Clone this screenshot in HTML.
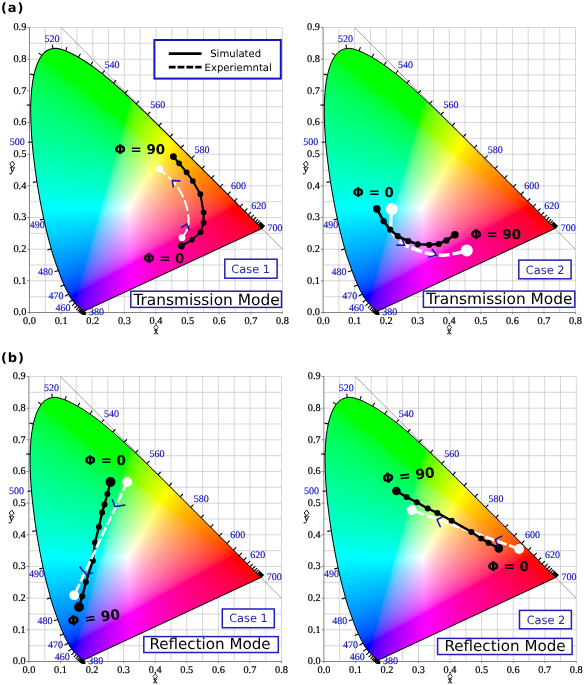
<!DOCTYPE html>
<html><head><meta charset="utf-8"><title>CIE chromaticity</title>
<style>
html,body{margin:0;padding:0;background:#fff}
svg{display:block;text-rendering:geometricPrecision}
.ax text{font-family:"Liberation Serif",serif;font-size:10.3px;fill:#000;stroke:#000;stroke-width:.2px}
.wl text{font-family:"Liberation Serif",serif;font-size:10px;fill:#1010c0;stroke:#1010c0;stroke-width:.15px}
.axt{font-family:"Liberation Serif",serif;font-size:9px;fill:#000;stroke:#000;stroke-width:.25px}
.sans{font-family:"DejaVu Sans","Liberation Sans",sans-serif}
.b{font-family:"DejaVu Sans","Liberation Sans",sans-serif;font-weight:bold}
</style></head><body>
<svg width="584" height="685" viewBox="0 0 584 685">
<defs><linearGradient id="g0" gradientUnits="userSpaceOnUse" x1="0" x2="240"><stop offset=".075" stop-color="#0f0"/><stop offset=".1375" stop-color="#0f0"/></linearGradient><linearGradient id="g1" gradientUnits="userSpaceOnUse" x1="0" x2="240"><stop offset=".0625" stop-color="#0f0"/><stop offset=".1583" stop-color="#0f0"/></linearGradient><linearGradient id="g2" gradientUnits="userSpaceOnUse" x1="0" x2="240"><stop offset=".0542" stop-color="#0f0"/><stop offset=".1708" stop-color="#0f0"/></linearGradient><linearGradient id="g3" gradientUnits="userSpaceOnUse" x1="0" x2="240"><stop offset=".05" stop-color="#0f0"/><stop offset=".1833" stop-color="#0f0"/></linearGradient><linearGradient id="g4" gradientUnits="userSpaceOnUse" x1="0" x2="240"><stop offset=".0458" stop-color="#0f0"/><stop offset=".1958" stop-color="#0f0"/></linearGradient><linearGradient id="g5" gradientUnits="userSpaceOnUse" x1="0" x2="240"><stop offset=".0417" stop-color="#00ff0b"/><stop offset=".05" stop-color="#0f0"/><stop offset=".2083" stop-color="#0f0"/></linearGradient><linearGradient id="g6" gradientUnits="userSpaceOnUse" x1="0" x2="240"><stop offset=".0375" stop-color="#00ff19"/><stop offset=".0583" stop-color="#0f0"/><stop offset=".2167" stop-color="#0f0"/></linearGradient><linearGradient id="g7" gradientUnits="userSpaceOnUse" x1="0" x2="240"><stop offset=".0333" stop-color="#0f2"/><stop offset=".0583" stop-color="#00ff09"/><stop offset=".0667" stop-color="#0f0"/><stop offset=".2292" stop-color="#0f0"/></linearGradient><linearGradient id="g8" gradientUnits="userSpaceOnUse" x1="0" x2="240"><stop offset=".0292" stop-color="#00ff29"/><stop offset=".0604" stop-color="#00ff12"/><stop offset=".0729" stop-color="#0f0"/><stop offset=".2375" stop-color="#0f0"/></linearGradient><linearGradient id="g9" gradientUnits="userSpaceOnUse" x1="0" x2="240"><stop offset=".0292" stop-color="#00ff2d"/><stop offset=".0667" stop-color="#00ff14"/><stop offset=".0813" stop-color="#0f0"/><stop offset=".25" stop-color="#0f0"/></linearGradient><linearGradient id="g10" gradientUnits="userSpaceOnUse" x1="0" x2="240"><stop offset=".025" stop-color="#00ff32"/><stop offset=".0667" stop-color="#00ff1b"/><stop offset=".0833" stop-color="#00ff07"/><stop offset=".0896" stop-color="#0f0"/><stop offset=".2583" stop-color="#0f0"/></linearGradient><linearGradient id="g11" gradientUnits="userSpaceOnUse" x1="0" x2="240"><stop offset=".025" stop-color="#00ff36"/><stop offset=".075" stop-color="#00ff1b"/><stop offset=".0979" stop-color="#0f0"/><stop offset=".2667" stop-color="#0f0"/></linearGradient><linearGradient id="g12" gradientUnits="userSpaceOnUse" x1="0" x2="240"><stop offset=".0208" stop-color="#00ff3b"/><stop offset=".0792" stop-color="#00ff1e"/><stop offset=".1" stop-color="#00ff06"/><stop offset=".1083" stop-color="#0f0"/><stop offset=".275" stop-color="#0f0"/></linearGradient><linearGradient id="g13" gradientUnits="userSpaceOnUse" x1="0" x2="240"><stop offset=".0167" stop-color="#00ff3f"/><stop offset=".0792" stop-color="#00ff24"/><stop offset=".1042" stop-color="#00ff0c"/><stop offset=".1125" stop-color="#0f0"/><stop offset=".2833" stop-color="#0f0"/></linearGradient><linearGradient id="g14" gradientUnits="userSpaceOnUse" x1="0" x2="240"><stop offset=".0167" stop-color="#00ff42"/><stop offset=".0875" stop-color="#00ff24"/><stop offset=".1125" stop-color="#00ff0c"/><stop offset=".1208" stop-color="#0f0"/><stop offset=".2917" stop-color="#0f0"/></linearGradient><linearGradient id="g15" gradientUnits="userSpaceOnUse" x1="0" x2="240"><stop offset=".0167" stop-color="#00ff45"/><stop offset=".0917" stop-color="#00ff26"/><stop offset=".1187" stop-color="#00ff0e"/><stop offset=".1292" stop-color="#0f0"/><stop offset=".3" stop-color="#0f0"/></linearGradient><linearGradient id="g16" gradientUnits="userSpaceOnUse" x1="0" x2="240"><stop offset=".0125" stop-color="#00ff48"/><stop offset=".0938" stop-color="#00ff2a"/><stop offset=".125" stop-color="#0f1"/><stop offset=".1354" stop-color="#0f0"/><stop offset=".3083" stop-color="#0f0"/></linearGradient><linearGradient id="g17" gradientUnits="userSpaceOnUse" x1="0" x2="240"><stop offset=".0125" stop-color="#00ff4b"/><stop offset=".0979" stop-color="#00ff2c"/><stop offset=".1313" stop-color="#00ff13"/><stop offset=".1437" stop-color="#0f0"/><stop offset=".3167" stop-color="#0f0"/></linearGradient><linearGradient id="g18" gradientUnits="userSpaceOnUse" x1="0" x2="240"><stop offset=".0125" stop-color="#00ff4d"/><stop offset=".1" stop-color="#00ff2f"/><stop offset=".1375" stop-color="#00ff15"/><stop offset=".1521" stop-color="#0f0"/><stop offset=".325" stop-color="#0f0"/></linearGradient><linearGradient id="g19" gradientUnits="userSpaceOnUse" x1="0" x2="240"><stop offset=".0083" stop-color="#00ff51"/><stop offset=".1042" stop-color="#00ff31"/><stop offset=".1437" stop-color="#00ff17"/><stop offset=".1604" stop-color="#0f0"/><stop offset=".3292" stop-color="#0f0"/></linearGradient><linearGradient id="g20" gradientUnits="userSpaceOnUse" x1="0" x2="240"><stop offset=".0083" stop-color="#00ff53"/><stop offset=".1083" stop-color="#0f3"/><stop offset=".15" stop-color="#00ff19"/><stop offset=".1688" stop-color="#0f0"/><stop offset=".3375" stop-color="#0f0"/></linearGradient><linearGradient id="g21" gradientUnits="userSpaceOnUse" x1="0" x2="240"><stop offset=".0083" stop-color="#0f5"/><stop offset=".1104" stop-color="#00ff36"/><stop offset=".1542" stop-color="#00ff1c"/><stop offset=".1708" stop-color="#00ff06"/><stop offset=".1792" stop-color="#0f0"/><stop offset=".3458" stop-color="#0f0"/></linearGradient><linearGradient id="g22" gradientUnits="userSpaceOnUse" x1="0" x2="240"><stop offset=".0083" stop-color="#00ff57"/><stop offset=".1125" stop-color="#00ff39"/><stop offset=".1604" stop-color="#00ff1e"/><stop offset=".1771" stop-color="#00ff09"/><stop offset=".1833" stop-color="#0f0"/><stop offset=".3542" stop-color="#0f0"/></linearGradient><linearGradient id="g23" gradientUnits="userSpaceOnUse" x1="0" x2="240"><stop offset=".0042" stop-color="#00ff5a"/><stop offset=".1167" stop-color="#00ff3b"/><stop offset=".1688" stop-color="#00ff1e"/><stop offset=".1854" stop-color="#00ff08"/><stop offset=".1917" stop-color="#0f0"/><stop offset=".3583" stop-color="#0f0"/></linearGradient><linearGradient id="g24" gradientUnits="userSpaceOnUse" x1="0" x2="240"><stop offset=".0042" stop-color="#00ff5c"/><stop offset=".1167" stop-color="#00ff3e"/><stop offset=".1708" stop-color="#00ff23"/><stop offset=".1917" stop-color="#00ff0c"/><stop offset=".2" stop-color="#0f0"/><stop offset=".3667" stop-color="#0f0"/></linearGradient><linearGradient id="g25" gradientUnits="userSpaceOnUse" x1="0" x2="240"><stop offset=".0042" stop-color="#00ff5f"/><stop offset=".125" stop-color="#00ff3e"/><stop offset=".1771" stop-color="#00ff24"/><stop offset=".2" stop-color="#00ff0b"/><stop offset=".2062" stop-color="#0f0"/><stop offset=".375" stop-color="#0f0"/></linearGradient><linearGradient id="g26" gradientUnits="userSpaceOnUse" x1="0" x2="240"><stop offset=".0042" stop-color="#00ff61"/><stop offset=".1292" stop-color="#00ff40"/><stop offset=".1854" stop-color="#00ff24"/><stop offset=".2062" stop-color="#00ff0e"/><stop offset=".2146" stop-color="#0f0"/><stop offset=".3833" stop-color="#0f0"/></linearGradient><linearGradient id="g27" gradientUnits="userSpaceOnUse" x1="0" x2="240"><stop offset=".0042" stop-color="#00ff63"/><stop offset=".1292" stop-color="#00ff43"/><stop offset=".1938" stop-color="#00ff24"/><stop offset=".2146" stop-color="#00ff0d"/><stop offset=".2208" stop-color="#0f0"/><stop offset=".3875" stop-color="#0f0"/></linearGradient><linearGradient id="g28" gradientUnits="userSpaceOnUse" x1="0" x2="240"><stop offset=".0042" stop-color="#00ff65"/><stop offset=".1354" stop-color="#0f4"/><stop offset=".2021" stop-color="#00ff24"/><stop offset=".2229" stop-color="#00ff0d"/><stop offset=".2292" stop-color="#0f0"/><stop offset=".3958" stop-color="#0f0"/></linearGradient><linearGradient id="g29" gradientUnits="userSpaceOnUse" x1="0" x2="240"><stop offset="0" stop-color="#00ff67"/><stop offset=".1417" stop-color="#00ff45"/><stop offset=".2104" stop-color="#00ff24"/><stop offset=".2313" stop-color="#00ff0c"/><stop offset=".2396" stop-color="#0f0"/><stop offset=".4042" stop-color="#0f0"/></linearGradient><linearGradient id="g30" gradientUnits="userSpaceOnUse" x1="0" x2="240"><stop offset="0" stop-color="#00ff69"/><stop offset=".1396" stop-color="#00ff49"/><stop offset=".2083" stop-color="#00ff2b"/><stop offset=".2375" stop-color="#00ff0f"/><stop offset=".2458" stop-color="#0f0"/><stop offset=".4083" stop-color="#0f0"/></linearGradient><linearGradient id="g31" gradientUnits="userSpaceOnUse" x1="0" x2="240"><stop offset="0" stop-color="#00ff6b"/><stop offset=".1437" stop-color="#00ff4b"/><stop offset=".2167" stop-color="#00ff2b"/><stop offset=".2437" stop-color="#00ff12"/><stop offset=".2542" stop-color="#0f0"/><stop offset=".4167" stop-color="#0f0"/></linearGradient><linearGradient id="g32" gradientUnits="userSpaceOnUse" x1="0" x2="240"><stop offset="0" stop-color="#00ff6d"/><stop offset=".1417" stop-color="#00ff4e"/><stop offset=".2188" stop-color="#00ff2f"/><stop offset=".25" stop-color="#00ff14"/><stop offset=".2604" stop-color="#0f0"/><stop offset=".4208" stop-color="#0f0"/></linearGradient><linearGradient id="g33" gradientUnits="userSpaceOnUse" x1="0" x2="240"><stop offset="0" stop-color="#00ff6f"/><stop offset=".1479" stop-color="#00ff4f"/><stop offset=".2271" stop-color="#00ff2f"/><stop offset=".2583" stop-color="#00ff14"/><stop offset=".2687" stop-color="#0f0"/><stop offset=".4229" stop-color="#0f0"/><stop offset=".425" stop-color="#12ff00"/><stop offset=".4292" stop-color="#25ff00"/></linearGradient><linearGradient id="g34" gradientUnits="userSpaceOnUse" x1="0" x2="240"><stop offset="0" stop-color="#00ff71"/><stop offset=".1542" stop-color="#00ff50"/><stop offset=".2313" stop-color="#00ff31"/><stop offset=".2625" stop-color="#00ff19"/><stop offset=".2771" stop-color="#0f0"/><stop offset=".4208" stop-color="#0f0"/><stop offset=".4271" stop-color="#24ff00"/><stop offset=".4375" stop-color="#3fff00"/></linearGradient><linearGradient id="g35" gradientUnits="userSpaceOnUse" x1="0" x2="240"><stop offset="0" stop-color="#00ff73"/><stop offset=".1604" stop-color="#00ff51"/><stop offset=".2354" stop-color="#00ff34"/><stop offset=".2687" stop-color="#00ff1b"/><stop offset=".2812" stop-color="#00ff06"/><stop offset=".2875" stop-color="#0f0"/><stop offset=".4188" stop-color="#0f0"/><stop offset=".425" stop-color="#23ff00"/><stop offset=".4396" stop-color="#46ff00"/><stop offset=".4417" stop-color="#4aff00"/></linearGradient><linearGradient id="g36" gradientUnits="userSpaceOnUse" x1="0" x2="240"><stop offset="0" stop-color="#00ff75"/><stop offset=".1667" stop-color="#00ff52"/><stop offset=".2458" stop-color="#0f3"/><stop offset=".2792" stop-color="#00ff18"/><stop offset=".2917" stop-color="#0f0"/><stop offset=".4167" stop-color="#0f0"/><stop offset=".4229" stop-color="#21ff00"/><stop offset=".4354" stop-color="#42ff00"/><stop offset=".45" stop-color="#59ff00"/></linearGradient><linearGradient id="g37" gradientUnits="userSpaceOnUse" x1="0" x2="240"><stop offset="0" stop-color="#00ff76"/><stop offset=".1583" stop-color="#00ff57"/><stop offset=".2437" stop-color="#00ff38"/><stop offset=".2812" stop-color="#00ff1f"/><stop offset=".2958" stop-color="#00ff09"/><stop offset=".3021" stop-color="#0f0"/><stop offset=".4146" stop-color="#0f0"/><stop offset=".4167" stop-color="#06ff00"/><stop offset=".4208" stop-color="#20ff00"/><stop offset=".4313" stop-color="#3dff00"/><stop offset=".4542" stop-color="#61ff00"/></linearGradient><linearGradient id="g38" gradientUnits="userSpaceOnUse" x1="0" x2="240"><stop offset="0" stop-color="#00ff78"/><stop offset=".1646" stop-color="#00ff58"/><stop offset=".25" stop-color="#00ff3a"/><stop offset=".2917" stop-color="#00ff1c"/><stop offset=".3042" stop-color="#00ff08"/><stop offset=".3104" stop-color="#0f0"/><stop offset=".4146" stop-color="#02ff00"/><stop offset=".4167" stop-color="#14ff00"/><stop offset=".4229" stop-color="#2dff00"/><stop offset=".4396" stop-color="#50ff00"/><stop offset=".4625" stop-color="#6eff00"/></linearGradient><linearGradient id="g39" gradientUnits="userSpaceOnUse" x1="0" x2="240"><stop offset="0" stop-color="#00ff7a"/><stop offset=".1708" stop-color="#00ff59"/><stop offset=".2625" stop-color="#00ff38"/><stop offset=".3" stop-color="#00ff1c"/><stop offset=".3125" stop-color="#00ff07"/><stop offset=".3167" stop-color="#0f0"/><stop offset=".4125" stop-color="#0f0"/><stop offset=".4167" stop-color="#1eff00"/><stop offset=".4271" stop-color="#3cff00"/><stop offset=".4521" stop-color="#64ff00"/><stop offset=".4667" stop-color="#74ff00"/></linearGradient><linearGradient id="g40" gradientUnits="userSpaceOnUse" x1="0" x2="240"><stop offset="0" stop-color="#00ff7c"/><stop offset=".1771" stop-color="#00ff5a"/><stop offset=".2687" stop-color="#00ff39"/><stop offset=".3083" stop-color="#00ff1c"/><stop offset=".3229" stop-color="#0f0"/><stop offset=".4104" stop-color="#0f0"/><stop offset=".4146" stop-color="#1cff00"/><stop offset=".4229" stop-color="#37ff00"/><stop offset=".4437" stop-color="#5cff00"/><stop offset=".475" stop-color="#7fff00"/></linearGradient><linearGradient id="g41" gradientUnits="userSpaceOnUse" x1="0" x2="240"><stop offset="0" stop-color="#00ff7e"/><stop offset=".1812" stop-color="#00ff5c"/><stop offset=".275" stop-color="#00ff3a"/><stop offset=".3146" stop-color="#00ff1e"/><stop offset=".3271" stop-color="#00ff0a"/><stop offset=".3312" stop-color="#0f0"/><stop offset=".4083" stop-color="#0f0"/><stop offset=".4146" stop-color="#24ff00"/><stop offset=".4292" stop-color="#48ff00"/><stop offset=".4625" stop-color="#75ff00"/><stop offset=".4833" stop-color="#89ff00"/></linearGradient><linearGradient id="g42" gradientUnits="userSpaceOnUse" x1="0" x2="240"><stop offset="0" stop-color="#00ff7f"/><stop offset=".1708" stop-color="#00ff61"/><stop offset=".2708" stop-color="#00ff40"/><stop offset=".3167" stop-color="#00ff24"/><stop offset=".3354" stop-color="#00ff09"/><stop offset=".3417" stop-color="#0f0"/><stop offset=".4062" stop-color="#0f0"/><stop offset=".4125" stop-color="#2f0"/><stop offset=".4229" stop-color="#3fff00"/><stop offset=".4479" stop-color="#6f0"/><stop offset=".4875" stop-color="#8fff00"/></linearGradient><linearGradient id="g43" gradientUnits="userSpaceOnUse" x1="0" x2="240"><stop offset="0" stop-color="#00ff81"/><stop offset=".1771" stop-color="#00ff62"/><stop offset=".2833" stop-color="#00ff3f"/><stop offset=".3271" stop-color="#0f2"/><stop offset=".3417" stop-color="#00ff0d"/><stop offset=".3479" stop-color="#0f0"/><stop offset=".4042" stop-color="#0f0"/><stop offset=".4062" stop-color="#06ff00"/><stop offset=".4083" stop-color="#17ff00"/><stop offset=".4167" stop-color="#35ff00"/><stop offset=".4375" stop-color="#5bff00"/><stop offset=".4792" stop-color="#89ff00"/><stop offset=".4958" stop-color="#98ff00"/></linearGradient><linearGradient id="g44" gradientUnits="userSpaceOnUse" x1="0" x2="240"><stop offset="0" stop-color="#00ff83"/><stop offset=".1792" stop-color="#00ff64"/><stop offset=".2854" stop-color="#00ff42"/><stop offset=".3333" stop-color="#00ff24"/><stop offset=".35" stop-color="#00ff0c"/><stop offset=".3563" stop-color="#0f0"/><stop offset=".4042" stop-color="#02ff00"/><stop offset=".4062" stop-color="#15ff00"/><stop offset=".4125" stop-color="#2fff00"/><stop offset=".4292" stop-color="#52ff00"/><stop offset=".4708" stop-color="#84ff00"/><stop offset=".5" stop-color="#9eff00"/></linearGradient><linearGradient id="g45" gradientUnits="userSpaceOnUse" x1="0" x2="240"><stop offset="0" stop-color="#00ff85"/><stop offset=".1854" stop-color="#00ff65"/><stop offset=".2917" stop-color="#00ff43"/><stop offset=".3375" stop-color="#00ff27"/><stop offset=".3563" stop-color="#00ff10"/><stop offset=".3625" stop-color="#0f0"/><stop offset=".4021" stop-color="#0f0"/><stop offset=".4042" stop-color="#13ff00"/><stop offset=".4104" stop-color="#2eff00"/><stop offset=".4292" stop-color="#5f0"/><stop offset=".4688" stop-color="#84ff00"/><stop offset=".5083" stop-color="#a6ff00"/></linearGradient><linearGradient id="g46" gradientUnits="userSpaceOnUse" x1="0" x2="240"><stop offset="0" stop-color="#00ff87"/><stop offset=".1917" stop-color="#0f6"/><stop offset=".2938" stop-color="#00ff46"/><stop offset=".3438" stop-color="#00ff29"/><stop offset=".3625" stop-color="#00ff13"/><stop offset=".3708" stop-color="#0f0"/><stop offset=".4" stop-color="#0f0"/><stop offset=".4042" stop-color="#1dff00"/><stop offset=".4125" stop-color="#38ff00"/><stop offset=".4333" stop-color="#5eff00"/><stop offset=".4792" stop-color="#90ff00"/><stop offset=".5125" stop-color="#abff00"/></linearGradient><linearGradient id="g47" gradientUnits="userSpaceOnUse" x1="0" x2="240"><stop offset="0" stop-color="#0f8"/><stop offset=".1896" stop-color="#00ff69"/><stop offset=".2958" stop-color="#00ff49"/><stop offset=".35" stop-color="#00ff2b"/><stop offset=".3708" stop-color="#00ff12"/><stop offset=".3792" stop-color="#0f0"/><stop offset=".3979" stop-color="#0f0"/><stop offset=".4042" stop-color="#25ff00"/><stop offset=".4167" stop-color="#46ff00"/><stop offset=".4479" stop-color="#73ff00"/><stop offset=".5125" stop-color="#aeff00"/><stop offset=".5208" stop-color="#b4ff00"/></linearGradient><linearGradient id="g48" gradientUnits="userSpaceOnUse" x1="0" x2="240"><stop offset="0" stop-color="#00ff8a"/><stop offset=".2021" stop-color="#00ff69"/><stop offset=".3146" stop-color="#00ff45"/><stop offset=".3625" stop-color="#00ff27"/><stop offset=".3792" stop-color="#00ff12"/><stop offset=".3854" stop-color="#00ff01"/><stop offset=".3958" stop-color="#0f0"/><stop offset=".4021" stop-color="#23ff00"/><stop offset=".4146" stop-color="#45ff00"/><stop offset=".4396" stop-color="#6bff00"/><stop offset=".4875" stop-color="#9cff00"/><stop offset=".525" stop-color="#b9ff00"/></linearGradient><linearGradient id="g49" gradientUnits="userSpaceOnUse" x1="0" x2="240"><stop offset="0" stop-color="#00ff8c"/><stop offset=".2" stop-color="#00ff6c"/><stop offset=".3125" stop-color="#00ff4a"/><stop offset=".3667" stop-color="#00ff2b"/><stop offset=".3875" stop-color="#0f1"/><stop offset=".3937" stop-color="#0f0"/><stop offset=".3958" stop-color="#06ff00"/><stop offset=".3979" stop-color="#18ff00"/><stop offset=".4062" stop-color="#36ff00"/><stop offset=".425" stop-color="#5aff00"/><stop offset=".4625" stop-color="#87ff00"/><stop offset=".5333" stop-color="#c1ff00"/></linearGradient><linearGradient id="g50" gradientUnits="userSpaceOnUse" x1="0" x2="240"><stop offset="0" stop-color="#00ff8e"/><stop offset=".2062" stop-color="#00ff6d"/><stop offset=".3167" stop-color="#00ff4c"/><stop offset=".3708" stop-color="#00ff2e"/><stop offset=".3917" stop-color="#00ff18"/><stop offset=".3937" stop-color="#02ff14"/><stop offset=".3958" stop-color="#16ff10"/><stop offset=".4021" stop-color="#30ff00"/><stop offset=".4188" stop-color="#54ff00"/><stop offset=".4562" stop-color="#83ff00"/><stop offset=".5271" stop-color="#bfff00"/><stop offset=".5375" stop-color="#c6ff00"/></linearGradient><linearGradient id="g51" gradientUnits="userSpaceOnUse" x1="0" x2="240"><stop offset="0" stop-color="#00ff8f"/><stop offset=".1938" stop-color="#00ff72"/><stop offset=".3167" stop-color="#00ff50"/><stop offset=".3729" stop-color="#0f3"/><stop offset=".3917" stop-color="#0f2"/><stop offset=".3937" stop-color="#13ff20"/><stop offset=".4" stop-color="#2fff17"/><stop offset=".4104" stop-color="#48ff00"/><stop offset=".4437" stop-color="#78ff00"/><stop offset=".5083" stop-color="#b3ff00"/><stop offset=".5458" stop-color="#ceff00"/></linearGradient><linearGradient id="g52" gradientUnits="userSpaceOnUse" x1="0" x2="240"><stop offset="0" stop-color="#00ff91"/><stop offset=".2062" stop-color="#00ff72"/><stop offset=".3229" stop-color="#00ff51"/><stop offset=".3833" stop-color="#00ff32"/><stop offset=".3896" stop-color="#00ff2d"/><stop offset=".3937" stop-color="#1eff29"/><stop offset=".4042" stop-color="#3fff1d"/><stop offset=".4146" stop-color="#53ff08"/><stop offset=".4188" stop-color="#5aff00"/><stop offset=".4604" stop-color="#8cff00"/><stop offset=".5437" stop-color="#cfff00"/><stop offset=".55" stop-color="#d3ff00"/></linearGradient><linearGradient id="g53" gradientUnits="userSpaceOnUse" x1="0" x2="240"><stop offset="0" stop-color="#00ff93"/><stop offset=".2083" stop-color="#00ff74"/><stop offset=".3271" stop-color="#00ff53"/><stop offset=".3875" stop-color="#00ff35"/><stop offset=".3937" stop-color="#26ff30"/><stop offset=".4062" stop-color="#47ff24"/><stop offset=".4188" stop-color="#5dff12"/><stop offset=".425" stop-color="#6f0"/><stop offset=".475" stop-color="#9cff00"/><stop offset=".5583" stop-color="#dbff00"/></linearGradient><linearGradient id="g54" gradientUnits="userSpaceOnUse" x1="0" x2="240"><stop offset="0" stop-color="#00ff95"/><stop offset=".2146" stop-color="#00ff75"/><stop offset=".3354" stop-color="#00ff54"/><stop offset=".3854" stop-color="#00ff3c"/><stop offset=".3917" stop-color="#24ff38"/><stop offset=".4021" stop-color="#43ff30"/><stop offset=".425" stop-color="#69ff16"/><stop offset=".4333" stop-color="#73ff00"/><stop offset=".5" stop-color="#b3ff00"/><stop offset=".5625" stop-color="#e0ff00"/></linearGradient><linearGradient id="g55" gradientUnits="userSpaceOnUse" x1="0" x2="240"><stop offset="0" stop-color="#00ff96"/><stop offset=".2083" stop-color="#00ff79"/><stop offset=".3333" stop-color="#00ff58"/><stop offset=".3833" stop-color="#00ff42"/><stop offset=".3854" stop-color="#06ff41"/><stop offset=".3875" stop-color="#18ff40"/><stop offset=".3958" stop-color="#38ff3b"/><stop offset=".4167" stop-color="#60ff2b"/><stop offset=".4354" stop-color="#78ff11"/><stop offset=".4417" stop-color="#80ff00"/><stop offset=".5062" stop-color="#baff00"/><stop offset=".5708" stop-color="#e8ff00"/></linearGradient><linearGradient id="g56" gradientUnits="userSpaceOnUse" x1="0" x2="240"><stop offset="0" stop-color="#00ff98"/><stop offset=".2146" stop-color="#00ff7a"/><stop offset=".3438" stop-color="#00ff58"/><stop offset=".3833" stop-color="#02ff47"/><stop offset=".3854" stop-color="#16ff46"/><stop offset=".3917" stop-color="#31ff43"/><stop offset=".4062" stop-color="#52ff3a"/><stop offset=".4354" stop-color="#7bff1f"/><stop offset=".4458" stop-color="#87ff0a"/><stop offset=".45" stop-color="#8bff00"/><stop offset=".5271" stop-color="#cf0"/><stop offset=".575" stop-color="#edff00"/></linearGradient><linearGradient id="g57" gradientUnits="userSpaceOnUse" x1="0" x2="240"><stop offset="0" stop-color="#00ff9a"/><stop offset=".2167" stop-color="#00ff7c"/><stop offset=".3458" stop-color="#00ff5b"/><stop offset=".3812" stop-color="#00ff4d"/><stop offset=".3833" stop-color="#14ff4c"/><stop offset=".3896" stop-color="#30ff48"/><stop offset=".4062" stop-color="#56ff3f"/><stop offset=".4396" stop-color="#82ff24"/><stop offset=".4521" stop-color="#8fff0f"/><stop offset=".4562" stop-color="#93ff01"/><stop offset=".5333" stop-color="#d3ff00"/><stop offset=".5833" stop-color="#f5ff00"/></linearGradient><linearGradient id="g58" gradientUnits="userSpaceOnUse" x1="0" x2="240"><stop offset=".0042" stop-color="#00ff9b"/><stop offset=".2188" stop-color="#00ff7e"/><stop offset=".35" stop-color="#00ff5d"/><stop offset=".3792" stop-color="#00ff52"/><stop offset=".3833" stop-color="#1fff50"/><stop offset=".3937" stop-color="#41ff4b"/><stop offset=".4167" stop-color="#69ff3e"/><stop offset=".4479" stop-color="#8eff24"/><stop offset=".4604" stop-color="#9aff0e"/><stop offset=".4646" stop-color="#9eff00"/><stop offset=".5646" stop-color="#ebff00"/><stop offset=".5875" stop-color="#fbff00"/></linearGradient><linearGradient id="g59" gradientUnits="userSpaceOnUse" x1="0" x2="240"><stop offset=".0042" stop-color="#00ff9d"/><stop offset=".2271" stop-color="#00ff7f"/><stop offset=".3604" stop-color="#00ff5d"/><stop offset=".3771" stop-color="#00ff57"/><stop offset=".3833" stop-color="#27ff54"/><stop offset=".3958" stop-color="#49ff4f"/><stop offset=".4208" stop-color="#71ff41"/><stop offset=".4562" stop-color="#98ff24"/><stop offset=".4688" stop-color="#a4ff0c"/><stop offset=".4729" stop-color="#a7ff00"/><stop offset=".5667" stop-color="#efff00"/><stop offset=".5938" stop-color="#fffd00"/><stop offset=".5958" stop-color="#fffb00"/></linearGradient><linearGradient id="g60" gradientUnits="userSpaceOnUse" x1="0" x2="240"><stop offset=".0042" stop-color="#00ff9f"/><stop offset=".2292" stop-color="#00ff81"/><stop offset=".3646" stop-color="#00ff5f"/><stop offset=".375" stop-color="#00ff5b"/><stop offset=".3812" stop-color="#25ff59"/><stop offset=".3937" stop-color="#49ff54"/><stop offset=".4188" stop-color="#71ff48"/><stop offset=".4583" stop-color="#9dff2b"/><stop offset=".475" stop-color="#acff11"/><stop offset=".4813" stop-color="#b1ff00"/><stop offset=".5875" stop-color="#fffe00"/><stop offset=".6042" stop-color="#fff400"/></linearGradient><linearGradient id="g61" gradientUnits="userSpaceOnUse" x1="0" x2="240"><stop offset=".0042" stop-color="#00ffa1"/><stop offset=".2375" stop-color="#00ff82"/><stop offset=".3688" stop-color="#00ff61"/><stop offset=".3729" stop-color="#00ff60"/><stop offset=".375" stop-color="#06ff5f"/><stop offset=".3771" stop-color="#19ff5e"/><stop offset=".3854" stop-color="#3aff5b"/><stop offset=".4083" stop-color="#66ff52"/><stop offset=".4542" stop-color="#9bff36"/><stop offset=".4771" stop-color="#b0ff1d"/><stop offset=".4854" stop-color="#b7ff0a"/><stop offset=".4896" stop-color="#baff00"/><stop offset=".5854" stop-color="#fffd00"/><stop offset=".6083" stop-color="#ffef00"/></linearGradient><linearGradient id="g62" gradientUnits="userSpaceOnUse" x1="0" x2="240"><stop offset=".0042" stop-color="#00ffa3"/><stop offset=".2396" stop-color="#00ff84"/><stop offset=".3708" stop-color="#00ff64"/><stop offset=".3729" stop-color="#02ff63"/><stop offset=".375" stop-color="#17ff63"/><stop offset=".3812" stop-color="#33ff60"/><stop offset=".3958" stop-color="#55ff5b"/><stop offset=".4313" stop-color="#86ff4b"/><stop offset=".475" stop-color="#b0ff2b"/><stop offset=".4896" stop-color="#bdff14"/><stop offset=".4958" stop-color="#c2ff00"/><stop offset=".5813" stop-color="#fffe00"/><stop offset=".6167" stop-color="#ffe800"/></linearGradient><linearGradient id="g63" gradientUnits="userSpaceOnUse" x1="0" x2="240"><stop offset=".0042" stop-color="#00ffa4"/><stop offset=".2313" stop-color="#0f8"/><stop offset=".3708" stop-color="#00ff67"/><stop offset=".3729" stop-color="#15ff67"/><stop offset=".3792" stop-color="#32ff65"/><stop offset=".3958" stop-color="#58ff5f"/><stop offset=".4292" stop-color="#86ff51"/><stop offset=".475" stop-color="#b3ff33"/><stop offset=".4938" stop-color="#c2ff1c"/><stop offset=".5021" stop-color="#c9ff06"/><stop offset=".5062" stop-color="#cf0"/><stop offset=".5771" stop-color="#fffe00"/><stop offset=".6208" stop-color="#ffe300"/></linearGradient><linearGradient id="g64" gradientUnits="userSpaceOnUse" x1="0" x2="240"><stop offset=".0042" stop-color="#00ffa6"/><stop offset=".2396" stop-color="#00ff89"/><stop offset=".3688" stop-color="#00ff6c"/><stop offset=".3729" stop-color="#20ff6a"/><stop offset=".3833" stop-color="#43ff67"/><stop offset=".4083" stop-color="#6fff5e"/><stop offset=".4562" stop-color="#a4ff47"/><stop offset=".4917" stop-color="#c3ff2b"/><stop offset=".5062" stop-color="#cfff13"/><stop offset=".5125" stop-color="#d4ff00"/><stop offset=".575" stop-color="#fffd00"/><stop offset=".6292" stop-color="#ffdc00"/></linearGradient><linearGradient id="g65" gradientUnits="userSpaceOnUse" x1="0" x2="240"><stop offset=".0042" stop-color="#00ffa8"/><stop offset=".2479" stop-color="#00ff8a"/><stop offset=".3667" stop-color="#00ff70"/><stop offset=".3708" stop-color="#1eff6e"/><stop offset=".3792" stop-color="#3dff6c"/><stop offset=".4021" stop-color="#69ff64"/><stop offset=".4479" stop-color="#9fff51"/><stop offset=".4938" stop-color="#c7ff31"/><stop offset=".5125" stop-color="#d6ff17"/><stop offset=".5208" stop-color="#df0"/><stop offset=".5708" stop-color="#fffd00"/><stop offset=".6333" stop-color="#ffd800"/></linearGradient><linearGradient id="g66" gradientUnits="userSpaceOnUse" x1="0" x2="240"><stop offset=".0083" stop-color="#00ffa9"/><stop offset=".2458" stop-color="#00ff8d"/><stop offset=".3646" stop-color="#00ff73"/><stop offset=".3708" stop-color="#27ff72"/><stop offset=".3833" stop-color="#4bff6e"/><stop offset=".4083" stop-color="#75ff66"/><stop offset=".4625" stop-color="#afff4e"/><stop offset=".5021" stop-color="#d0ff32"/><stop offset=".5208" stop-color="#dfff16"/><stop offset=".5271" stop-color="#e4ff01"/><stop offset=".5667" stop-color="#fffd00"/><stop offset=".6417" stop-color="#ffd200"/></linearGradient><linearGradient id="g67" gradientUnits="userSpaceOnUse" x1="0" x2="240"><stop offset=".0083" stop-color="#00ffab"/><stop offset=".2542" stop-color="#00ff8e"/><stop offset=".3625" stop-color="#0f7"/><stop offset=".3646" stop-color="#06ff77"/><stop offset=".3667" stop-color="#1aff76"/><stop offset=".3729" stop-color="#35ff74"/><stop offset=".3896" stop-color="#5bff70"/><stop offset=".4208" stop-color="#87ff65"/><stop offset=".4917" stop-color="#cbff42"/><stop offset=".5208" stop-color="#e2ff25"/><stop offset=".5312" stop-color="#eaff10"/><stop offset=".5354" stop-color="#edff00"/><stop offset=".5646" stop-color="#fffc00"/><stop offset=".6438" stop-color="#ffcf00"/><stop offset=".6458" stop-color="#ffce00"/></linearGradient><linearGradient id="g68" gradientUnits="userSpaceOnUse" x1="0" x2="240"><stop offset=".0083" stop-color="#00ffad"/><stop offset=".2521" stop-color="#00ff91"/><stop offset=".3625" stop-color="#02ff7a"/><stop offset=".3646" stop-color="#18ff7a"/><stop offset=".3708" stop-color="#34ff78"/><stop offset=".3854" stop-color="#57ff74"/><stop offset=".4208" stop-color="#8aff69"/><stop offset=".4938" stop-color="#cfff47"/><stop offset=".5292" stop-color="#ebff25"/><stop offset=".5396" stop-color="#f2ff0e"/><stop offset=".5437" stop-color="#f6ff00"/><stop offset=".5625" stop-color="#fffb00"/><stop offset=".65" stop-color="#ffc900"/><stop offset=".6542" stop-color="#ffc800"/></linearGradient><linearGradient id="g69" gradientUnits="userSpaceOnUse" x1="0" x2="240"><stop offset=".0083" stop-color="#00ffaf"/><stop offset=".2625" stop-color="#00ff92"/><stop offset=".3604" stop-color="#00ff7e"/><stop offset=".3625" stop-color="#15ff7e"/><stop offset=".3688" stop-color="#33ff7c"/><stop offset=".3854" stop-color="#5bff78"/><stop offset=".4188" stop-color="#8aff6e"/><stop offset=".4917" stop-color="#d0ff4e"/><stop offset=".5292" stop-color="#edff30"/><stop offset=".5458" stop-color="#faff14"/><stop offset=".5521" stop-color="#ff0"/><stop offset=".6396" stop-color="#fc0"/><stop offset=".6583" stop-color="#ffc400"/></linearGradient><linearGradient id="g70" gradientUnits="userSpaceOnUse" x1="0" x2="240"><stop offset=".0083" stop-color="#00ffb1"/><stop offset=".2583" stop-color="#00ff95"/><stop offset=".3583" stop-color="#00ff82"/><stop offset=".3625" stop-color="#21ff81"/><stop offset=".3729" stop-color="#45ff7e"/><stop offset=".3958" stop-color="#6fff78"/><stop offset=".4396" stop-color="#a3ff6a"/><stop offset=".5104" stop-color="#e1ff48"/><stop offset=".5437" stop-color="#fbff28"/><stop offset=".5542" stop-color="#fffb12"/><stop offset=".5583" stop-color="#fff801"/><stop offset=".6458" stop-color="#ffc700"/><stop offset=".6667" stop-color="#ffbe00"/></linearGradient><linearGradient id="g71" gradientUnits="userSpaceOnUse" x1="0" x2="240"><stop offset=".0083" stop-color="#00ffb3"/><stop offset=".2687" stop-color="#00ff96"/><stop offset=".3563" stop-color="#00ff85"/><stop offset=".3604" stop-color="#1fff84"/><stop offset=".3688" stop-color="#3fff82"/><stop offset=".3896" stop-color="#69ff7d"/><stop offset=".4313" stop-color="#9dff71"/><stop offset=".5062" stop-color="#e1ff51"/><stop offset=".5458" stop-color="#ffff30"/><stop offset=".5625" stop-color="#fff310"/><stop offset=".5667" stop-color="#fff000"/><stop offset=".6604" stop-color="#ffbe00"/><stop offset=".6708" stop-color="#ffba00"/></linearGradient><linearGradient id="g72" gradientUnits="userSpaceOnUse" x1="0" x2="240"><stop offset=".0083" stop-color="#00ffb5"/><stop offset=".2729" stop-color="#00ff98"/><stop offset=".3542" stop-color="#00ff89"/><stop offset=".3563" stop-color="#0bff88"/><stop offset=".3583" stop-color="#1dff88"/><stop offset=".3667" stop-color="#3eff86"/><stop offset=".3854" stop-color="#65ff82"/><stop offset=".4229" stop-color="#97ff77"/><stop offset=".4979" stop-color="#ddff5b"/><stop offset=".5437" stop-color="#fffd3b"/><stop offset=".5667" stop-color="#ffed19"/><stop offset=".575" stop-color="#ffe800"/><stop offset=".6625" stop-color="#fb0"/><stop offset=".6792" stop-color="#ffb500"/></linearGradient><linearGradient id="g73" gradientUnits="userSpaceOnUse" x1="0" x2="240"><stop offset=".0125" stop-color="#00ffb6"/><stop offset=".2708" stop-color="#00ff9b"/><stop offset=".3521" stop-color="#00ff8c"/><stop offset=".3542" stop-color="#06ff8c"/><stop offset=".3563" stop-color="#1bff8b"/><stop offset=".3625" stop-color="#37ff8a"/><stop offset=".3792" stop-color="#5eff86"/><stop offset=".4125" stop-color="#8eff7e"/><stop offset=".4958" stop-color="#deff61"/><stop offset=".5417" stop-color="#fffc44"/><stop offset=".5729" stop-color="#ffe71c"/><stop offset=".5833" stop-color="#ffe000"/><stop offset=".6833" stop-color="#ffb100"/></linearGradient><linearGradient id="g74" gradientUnits="userSpaceOnUse" x1="0" x2="240"><stop offset=".0125" stop-color="#00ffb8"/><stop offset=".2812" stop-color="#00ff9c"/><stop offset=".3521" stop-color="#01ff8f"/><stop offset=".3542" stop-color="#19ff8f"/><stop offset=".3625" stop-color="#3dff8d"/><stop offset=".3792" stop-color="#62ff8a"/><stop offset=".4167" stop-color="#96ff80"/><stop offset=".4938" stop-color="#dfff66"/><stop offset=".5354" stop-color="#fffe50"/><stop offset=".575" stop-color="#ffe325"/><stop offset=".5875" stop-color="#ffdb0a"/><stop offset=".5917" stop-color="#ffd900"/><stop offset=".6917" stop-color="#ffac00"/></linearGradient><linearGradient id="g75" gradientUnits="userSpaceOnUse" x1="0" x2="240"><stop offset=".0125" stop-color="#00ffba"/><stop offset=".2792" stop-color="#00ff9f"/><stop offset=".35" stop-color="#00ff93"/><stop offset=".3521" stop-color="#16ff92"/><stop offset=".3563" stop-color="#2dff92"/><stop offset=".3688" stop-color="#51ff8f"/><stop offset=".3958" stop-color="#7fff89"/><stop offset=".4542" stop-color="#bfff79"/><stop offset=".5292" stop-color="#feff5a"/><stop offset=".5792" stop-color="#ffde29"/><stop offset=".5938" stop-color="#ffd50f"/><stop offset=".5979" stop-color="#ffd300"/><stop offset=".6958" stop-color="#ffa800"/></linearGradient><linearGradient id="g76" gradientUnits="userSpaceOnUse" x1="0" x2="240"><stop offset=".0125" stop-color="#00ffbc"/><stop offset=".2833" stop-color="#00ffa1"/><stop offset=".3479" stop-color="#00ff96"/><stop offset=".3521" stop-color="#22ff95"/><stop offset=".3604" stop-color="#41ff94"/><stop offset=".3792" stop-color="#69ff90"/><stop offset=".4167" stop-color="#9bff87"/><stop offset=".5" stop-color="#eaff6d"/><stop offset=".5292" stop-color="#fffd5f"/><stop offset=".5875" stop-color="#ffd627"/><stop offset=".6021" stop-color="#ffcf0d"/><stop offset=".6062" stop-color="#fc0"/><stop offset=".7042" stop-color="#ffa300"/></linearGradient><linearGradient id="g77" gradientUnits="userSpaceOnUse" x1="0" x2="240"><stop offset=".0125" stop-color="#00ffbe"/><stop offset=".2875" stop-color="#00ffa3"/><stop offset=".3458" stop-color="#0f9"/><stop offset=".35" stop-color="#20ff99"/><stop offset=".3583" stop-color="#41ff97"/><stop offset=".3771" stop-color="#69ff94"/><stop offset=".4167" stop-color="#9eff8b"/><stop offset=".4979" stop-color="#ebff72"/><stop offset=".525" stop-color="#fffd66"/><stop offset=".5917" stop-color="#ffd22b"/><stop offset=".6083" stop-color="#ffc911"/><stop offset=".6146" stop-color="#ffc600"/><stop offset=".7083" stop-color="#ff9f00"/></linearGradient><linearGradient id="g78" gradientUnits="userSpaceOnUse" x1="0" x2="240"><stop offset=".0167" stop-color="#00ffbf"/><stop offset=".2792" stop-color="#00ffa7"/><stop offset=".3438" stop-color="#00ff9d"/><stop offset=".35" stop-color="#29ff9c"/><stop offset=".3583" stop-color="#46ff9a"/><stop offset=".3833" stop-color="#76ff96"/><stop offset=".4271" stop-color="#acff8c"/><stop offset=".5146" stop-color="#fcff71"/><stop offset=".5938" stop-color="#ffce30"/><stop offset=".6146" stop-color="#ffc314"/><stop offset=".6229" stop-color="#ffbf00"/><stop offset=".7167" stop-color="#ff9a00"/></linearGradient><linearGradient id="g79" gradientUnits="userSpaceOnUse" x1="0" x2="240"><stop offset=".0167" stop-color="#00ffc1"/><stop offset=".2833" stop-color="#00ffa9"/><stop offset=".3417" stop-color="#00ffa0"/><stop offset=".3438" stop-color="#07ffa0"/><stop offset=".3458" stop-color="#1cffa0"/><stop offset=".3521" stop-color="#39ff9e"/><stop offset=".3688" stop-color="#61ff9c"/><stop offset=".3979" stop-color="#8eff96"/><stop offset=".4625" stop-color="#d2ff87"/><stop offset=".5167" stop-color="#fffe74"/><stop offset=".5854" stop-color="#ffd03e"/><stop offset=".6167" stop-color="#ffc01d"/><stop offset=".6292" stop-color="#ffba01"/><stop offset=".7208" stop-color="#ff9700"/></linearGradient><linearGradient id="g80" gradientUnits="userSpaceOnUse" x1="0" x2="240"><stop offset=".0167" stop-color="#00ffc3"/><stop offset=".2896" stop-color="#00ffab"/><stop offset=".3417" stop-color="#01ffa3"/><stop offset=".3438" stop-color="#1affa3"/><stop offset=".35" stop-color="#38ffa2"/><stop offset=".3646" stop-color="#5dff9f"/><stop offset=".3937" stop-color="#8bff9a"/><stop offset=".4542" stop-color="#cdff8d"/><stop offset=".5125" stop-color="#fffe7a"/><stop offset=".5813" stop-color="#ffd047"/><stop offset=".6229" stop-color="#ffbb1f"/><stop offset=".6333" stop-color="#ffb60c"/><stop offset=".6375" stop-color="#ffb400"/><stop offset=".7292" stop-color="#ff9200"/></linearGradient><linearGradient id="g81" gradientUnits="userSpaceOnUse" x1="0" x2="240"><stop offset=".0167" stop-color="#00ffc5"/><stop offset=".2875" stop-color="#00ffae"/><stop offset=".3396" stop-color="#00ffa7"/><stop offset=".3417" stop-color="#17ffa6"/><stop offset=".3458" stop-color="#2fffa6"/><stop offset=".3604" stop-color="#59ffa3"/><stop offset=".3917" stop-color="#8cff9e"/><stop offset=".4583" stop-color="#d4ff8f"/><stop offset=".5104" stop-color="#fffd7f"/><stop offset=".5792" stop-color="#ffce4d"/><stop offset=".6271" stop-color="#ffb723"/><stop offset=".6417" stop-color="#ffb00a"/><stop offset=".6458" stop-color="#ffae00"/><stop offset=".7333" stop-color="#ff8e00"/></linearGradient><linearGradient id="g82" gradientUnits="userSpaceOnUse" x1="0" x2="240"><stop offset=".0167" stop-color="#00ffc7"/><stop offset=".2938" stop-color="#00ffb0"/><stop offset=".3375" stop-color="#0fa"/><stop offset=".3417" stop-color="#23ffa9"/><stop offset=".35" stop-color="#44ffa8"/><stop offset=".3708" stop-color="#70ffa5"/><stop offset=".4125" stop-color="#a8ff9d"/><stop offset=".5021" stop-color="#feff87"/><stop offset=".5813" stop-color="#ffcb4f"/><stop offset=".6312" stop-color="#ffb226"/><stop offset=".6479" stop-color="#ffab0e"/><stop offset=".6542" stop-color="#ffa900"/><stop offset=".7417" stop-color="#ff8900"/></linearGradient><linearGradient id="g83" gradientUnits="userSpaceOnUse" x1="0" x2="240"><stop offset=".0208" stop-color="#00ffc9"/><stop offset=".3083" stop-color="#00ffb1"/><stop offset=".3354" stop-color="#00ffad"/><stop offset=".3396" stop-color="#21ffad"/><stop offset=".3479" stop-color="#43ffab"/><stop offset=".3667" stop-color="#6dffa9"/><stop offset=".4062" stop-color="#a4ffa2"/><stop offset=".4813" stop-color="#efff91"/><stop offset=".5021" stop-color="#fffd8b"/><stop offset=".5771" stop-color="#ffca56"/><stop offset=".6354" stop-color="#ffae2a"/><stop offset=".6562" stop-color="#ffa60c"/><stop offset=".6625" stop-color="#ffa300"/><stop offset=".7458" stop-color="#ff8600"/></linearGradient><linearGradient id="g84" gradientUnits="userSpaceOnUse" x1="0" x2="240"><stop offset=".0208" stop-color="#00ffcb"/><stop offset=".3083" stop-color="#00ffb4"/><stop offset=".3333" stop-color="#00ffb0"/><stop offset=".3354" stop-color="#0cffb0"/><stop offset=".3375" stop-color="#1fffb0"/><stop offset=".3458" stop-color="#43ffaf"/><stop offset=".3646" stop-color="#6dffac"/><stop offset=".4021" stop-color="#a2ffa6"/><stop offset=".4813" stop-color="#f2ff96"/><stop offset=".5" stop-color="#fffc8f"/><stop offset=".5646" stop-color="#ffcf62"/><stop offset=".6417" stop-color="#ffa92a"/><stop offset=".6625" stop-color="#ffa110"/><stop offset=".6687" stop-color="#ff9e00"/><stop offset=".7542" stop-color="#ff8100"/></linearGradient><linearGradient id="g85" gradientUnits="userSpaceOnUse" x1="0" x2="240"><stop offset=".0208" stop-color="#00ffcd"/><stop offset=".3167" stop-color="#00ffb6"/><stop offset=".3312" stop-color="#00ffb4"/><stop offset=".3333" stop-color="#07ffb4"/><stop offset=".3354" stop-color="#1dffb3"/><stop offset=".3417" stop-color="#3bffb2"/><stop offset=".3563" stop-color="#61ffb1"/><stop offset=".3875" stop-color="#93ffac"/><stop offset=".4521" stop-color="#daffa0"/><stop offset=".4938" stop-color="#fffe96"/><stop offset=".5625" stop-color="#ffcd66"/><stop offset=".6479" stop-color="#ffa42b"/><stop offset=".6687" stop-color="#ff9c12"/><stop offset=".6771" stop-color="#f90"/><stop offset=".7583" stop-color="#ff7d00"/></linearGradient><linearGradient id="g86" gradientUnits="userSpaceOnUse" x1="0" x2="240"><stop offset=".0208" stop-color="#00ffcf"/><stop offset=".3167" stop-color="#00ffb9"/><stop offset=".3312" stop-color="#01ffb7"/><stop offset=".3333" stop-color="#1bffb7"/><stop offset=".3396" stop-color="#3affb6"/><stop offset=".3542" stop-color="#61ffb4"/><stop offset=".3854" stop-color="#93ffb0"/><stop offset=".4479" stop-color="#d9ffa5"/><stop offset=".4917" stop-color="#fffc9a"/><stop offset=".5604" stop-color="#ffcc6a"/><stop offset=".6542" stop-color="#ff9f2c"/><stop offset=".6771" stop-color="#ff9711"/><stop offset=".6854" stop-color="#ff9400"/><stop offset=".7667" stop-color="#ff7800"/></linearGradient><linearGradient id="g87" gradientUnits="userSpaceOnUse" x1="0" x2="240"><stop offset=".0208" stop-color="#00ffd1"/><stop offset=".3167" stop-color="#00ffbc"/><stop offset=".3292" stop-color="#00ffba"/><stop offset=".3312" stop-color="#18ffba"/><stop offset=".3375" stop-color="#39ffb9"/><stop offset=".3521" stop-color="#61ffb7"/><stop offset=".3833" stop-color="#94ffb3"/><stop offset=".4458" stop-color="#daffa9"/><stop offset=".4875" stop-color="#fffd9f"/><stop offset=".5583" stop-color="#ffca6e"/><stop offset=".6583" stop-color="#ff9b2e"/><stop offset=".6833" stop-color="#ff9213"/><stop offset=".6937" stop-color="#ff8e00"/><stop offset=".7708" stop-color="#ff7500"/></linearGradient><linearGradient id="g88" gradientUnits="userSpaceOnUse" x1="0" x2="240"><stop offset=".025" stop-color="#00ffd3"/><stop offset=".3271" stop-color="#00ffbe"/><stop offset=".3312" stop-color="#25ffbd"/><stop offset=".3396" stop-color="#46ffbc"/><stop offset=".3583" stop-color="#71ffba"/><stop offset=".4" stop-color="#acffb4"/><stop offset=".4771" stop-color="#fbffa7"/><stop offset=".4938" stop-color="#fff49c"/><stop offset=".5646" stop-color="#ffc46d"/><stop offset=".6667" stop-color="#ff962d"/><stop offset=".6917" stop-color="#ff8d12"/><stop offset=".7" stop-color="#ff8a00"/><stop offset=".7792" stop-color="#ff7000"/></linearGradient><linearGradient id="g89" gradientUnits="userSpaceOnUse" x1="0" x2="240"><stop offset=".025" stop-color="#00ffd5"/><stop offset=".325" stop-color="#00ffc1"/><stop offset=".3292" stop-color="#23ffc0"/><stop offset=".3375" stop-color="#46ffc0"/><stop offset=".3563" stop-color="#71ffbd"/><stop offset=".3979" stop-color="#adffb8"/><stop offset=".4771" stop-color="#ffffab"/><stop offset=".5396" stop-color="#ffd07f"/><stop offset=".6312" stop-color="#ffa249"/><stop offset=".6896" stop-color="#ff8b1f"/><stop offset=".7063" stop-color="#ff8504"/><stop offset=".7146" stop-color="#ff8200"/><stop offset=".7833" stop-color="#ff6c00"/></linearGradient><linearGradient id="g90" gradientUnits="userSpaceOnUse" x1="0" x2="240"><stop offset=".025" stop-color="#00ffd8"/><stop offset=".3229" stop-color="#00ffc4"/><stop offset=".325" stop-color="#0dffc4"/><stop offset=".3271" stop-color="#21ffc4"/><stop offset=".3354" stop-color="#45ffc3"/><stop offset=".3542" stop-color="#71ffc1"/><stop offset=".3979" stop-color="#b0ffbc"/><stop offset=".4729" stop-color="#feffb0"/><stop offset=".5396" stop-color="#ffcd81"/><stop offset=".6604" stop-color="#ff933b"/><stop offset=".7" stop-color="#ff851b"/><stop offset=".7188" stop-color="#ff7e00"/><stop offset=".7917" stop-color="#ff6700"/></linearGradient><linearGradient id="g91" gradientUnits="userSpaceOnUse" x1="0" x2="240"><stop offset=".025" stop-color="#00ffda"/><stop offset=".3208" stop-color="#00ffc8"/><stop offset=".3229" stop-color="#07ffc7"/><stop offset=".325" stop-color="#1effc7"/><stop offset=".3312" stop-color="#3dffc7"/><stop offset=".3458" stop-color="#65ffc5"/><stop offset=".3771" stop-color="#99ffc2"/><stop offset=".4417" stop-color="#e3ffb9"/><stop offset=".4729" stop-color="#fffcb2"/><stop offset=".5333" stop-color="#ffce87"/><stop offset=".6271" stop-color="#ff9e52"/><stop offset=".6979" stop-color="#ff8325"/><stop offset=".7188" stop-color="#ff7c0b"/><stop offset=".725" stop-color="#ff7a00"/><stop offset=".7958" stop-color="#ff6300"/></linearGradient><linearGradient id="g92" gradientUnits="userSpaceOnUse" x1="0" x2="240"><stop offset=".0292" stop-color="#00ffdc"/><stop offset=".3208" stop-color="#01ffcb"/><stop offset=".3229" stop-color="#1cffcb"/><stop offset=".3292" stop-color="#3dffca"/><stop offset=".3458" stop-color="#69ffc9"/><stop offset=".3792" stop-color="#9fffc5"/><stop offset=".4458" stop-color="#ebffbd"/><stop offset=".4688" stop-color="#fffcb7"/><stop offset=".5333" stop-color="#ffcb89"/><stop offset=".6583" stop-color="#ff8f44"/><stop offset=".7125" stop-color="#ff7c1e"/><stop offset=".7292" stop-color="#ff7605"/><stop offset=".7333" stop-color="#ff7500"/><stop offset=".8042" stop-color="#ff5e00"/></linearGradient><linearGradient id="g93" gradientUnits="userSpaceOnUse" x1="0" x2="240"><stop offset=".0292" stop-color="#00ffde"/><stop offset=".3187" stop-color="#00ffce"/><stop offset=".3208" stop-color="#19ffce"/><stop offset=".325" stop-color="#33ffce"/><stop offset=".3375" stop-color="#5bffcd"/><stop offset=".3646" stop-color="#8effca"/><stop offset=".4188" stop-color="#d2ffc4"/><stop offset=".4646" stop-color="#fffdbc"/><stop offset=".525" stop-color="#ffcd90"/><stop offset=".6292" stop-color="#ff9857"/><stop offset=".7083" stop-color="#ff7b28"/><stop offset=".7333" stop-color="#ff720d"/><stop offset=".7396" stop-color="#ff7000"/><stop offset=".8083" stop-color="#ff5a00"/></linearGradient><linearGradient id="g94" gradientUnits="userSpaceOnUse" x1="0" x2="240"><stop offset=".0292" stop-color="#00ffe0"/><stop offset=".3167" stop-color="#00ffd2"/><stop offset=".3208" stop-color="#26ffd1"/><stop offset=".3271" stop-color="#42ffd1"/><stop offset=".3417" stop-color="#69ffd0"/><stop offset=".3729" stop-color="#9dffcd"/><stop offset=".4333" stop-color="#e5ffc7"/><stop offset=".4604" stop-color="#fffdc2"/><stop offset=".5208" stop-color="#ffcd94"/><stop offset=".6208" stop-color="#ff995e"/><stop offset=".7146" stop-color="#ff7629"/><stop offset=".7396" stop-color="#ff6d0f"/><stop offset=".75" stop-color="#ff6a00"/><stop offset=".8167" stop-color="#ff5400"/></linearGradient><linearGradient id="g95" gradientUnits="userSpaceOnUse" x1="0" x2="240"><stop offset=".0292" stop-color="#00ffe3"/><stop offset=".3146" stop-color="#00ffd5"/><stop offset=".3187" stop-color="#24ffd5"/><stop offset=".325" stop-color="#42ffd4"/><stop offset=".3417" stop-color="#6dffd3"/><stop offset=".375" stop-color="#a4ffd0"/><stop offset=".4458" stop-color="#f6ffc9"/><stop offset=".4583" stop-color="#fffbc5"/><stop offset=".5208" stop-color="#ffca96"/><stop offset=".6208" stop-color="#ff9760"/><stop offset=".7188" stop-color="#ff722b"/><stop offset=".7479" stop-color="#ff680e"/><stop offset=".7562" stop-color="#ff6500"/><stop offset=".8208" stop-color="#ff5000"/></linearGradient><linearGradient id="g96" gradientUnits="userSpaceOnUse" x1="0" x2="240"><stop offset=".0333" stop-color="#00ffe5"/><stop offset=".3125" stop-color="#00ffd9"/><stop offset=".3146" stop-color="#0dffd9"/><stop offset=".3167" stop-color="#22ffd8"/><stop offset=".3229" stop-color="#41ffd8"/><stop offset=".3375" stop-color="#69ffd7"/><stop offset=".3688" stop-color="#9fffd5"/><stop offset=".4313" stop-color="#eaffcf"/><stop offset=".4542" stop-color="#fffcca"/><stop offset=".5125" stop-color="#ffcc9d"/><stop offset=".6062" stop-color="#ff9a6a"/><stop offset=".7229" stop-color="#ff6e2d"/><stop offset=".7562" stop-color="#ff620d"/><stop offset=".7646" stop-color="#ff6000"/><stop offset=".8292" stop-color="#ff4a00"/></linearGradient><linearGradient id="g97" gradientUnits="userSpaceOnUse" x1="0" x2="240"><stop offset=".0333" stop-color="#00ffe7"/><stop offset=".3104" stop-color="#00ffdc"/><stop offset=".3125" stop-color="#07ffdc"/><stop offset=".3146" stop-color="#20ffdc"/><stop offset=".3208" stop-color="#40ffdc"/><stop offset=".3354" stop-color="#69ffdb"/><stop offset=".3646" stop-color="#9cffd9"/><stop offset=".4208" stop-color="#e3ffd4"/><stop offset=".45" stop-color="#fffccf"/><stop offset=".5083" stop-color="#ffcca1"/><stop offset=".6" stop-color="#ff9a6f"/><stop offset=".7271" stop-color="#ff6a2f"/><stop offset=".7604" stop-color="#ff5e12"/><stop offset=".7729" stop-color="#ff5a00"/><stop offset=".8333" stop-color="#ff4500"/></linearGradient><linearGradient id="g98" gradientUnits="userSpaceOnUse" x1="0" x2="240"><stop offset=".0333" stop-color="#00ffe9"/><stop offset=".3104" stop-color="#00ffe0"/><stop offset=".3125" stop-color="#1dffdf"/><stop offset=".3167" stop-color="#36ffdf"/><stop offset=".3271" stop-color="#5affdf"/><stop offset=".3521" stop-color="#8dffdd"/><stop offset=".4021" stop-color="#d1ffda"/><stop offset=".4458" stop-color="#fffcd4"/><stop offset=".5062" stop-color="#ffcaa4"/><stop offset=".6" stop-color="#ff9871"/><stop offset=".7375" stop-color="#ff632d"/><stop offset=".7688" stop-color="#ff5811"/><stop offset=".7812" stop-color="#ff5400"/><stop offset=".8417" stop-color="#ff3e00"/></linearGradient><linearGradient id="g99" gradientUnits="userSpaceOnUse" x1="0" x2="240"><stop offset=".0333" stop-color="#00ffec"/><stop offset=".3083" stop-color="#00ffe3"/><stop offset=".3104" stop-color="#1affe3"/><stop offset=".3146" stop-color="#35ffe3"/><stop offset=".3271" stop-color="#5fffe2"/><stop offset=".3563" stop-color="#97ffe1"/><stop offset=".4083" stop-color="#dcffdd"/><stop offset=".4417" stop-color="#fffdd9"/><stop offset=".4958" stop-color="#ffcead"/><stop offset=".5833" stop-color="#ff9d7b"/><stop offset=".7396" stop-color="#ff5f30"/><stop offset=".775" stop-color="#ff5313"/><stop offset=".7875" stop-color="#ff4e00"/><stop offset=".8458" stop-color="#ff3800"/></linearGradient><linearGradient id="g100" gradientUnits="userSpaceOnUse" x1="0" x2="240"><stop offset=".0375" stop-color="#0fe"/><stop offset=".3063" stop-color="#00ffe7"/><stop offset=".3104" stop-color="#28ffe7"/><stop offset=".3187" stop-color="#4dffe6"/><stop offset=".3396" stop-color="#7fffe5"/><stop offset=".3792" stop-color="#bcffe3"/><stop offset=".4375" stop-color="#fffdde"/><stop offset=".4938" stop-color="#ffccaf"/><stop offset=".5833" stop-color="#ff9a7d"/><stop offset=".7562" stop-color="#ff562a"/><stop offset=".7875" stop-color="#ff4b0c"/><stop offset=".7958" stop-color="#ff4800"/><stop offset=".8542" stop-color="#ff2f00"/></linearGradient><linearGradient id="g101" gradientUnits="userSpaceOnUse" x1="0" x2="240"><stop offset=".0375" stop-color="#00fff1"/><stop offset=".3042" stop-color="#00ffea"/><stop offset=".3083" stop-color="#26ffea"/><stop offset=".3146" stop-color="#45ffea"/><stop offset=".3292" stop-color="#6effea"/><stop offset=".3604" stop-color="#a5ffe8"/><stop offset=".4188" stop-color="#f0ffe5"/><stop offset=".4354" stop-color="#fffbe1"/><stop offset=".4938" stop-color="#ffc9b1"/><stop offset=".5833" stop-color="#ff977f"/><stop offset=".7583" stop-color="#ff522d"/><stop offset=".7937" stop-color="#ff450f"/><stop offset=".8042" stop-color="#ff4100"/><stop offset=".8583" stop-color="#ff2800"/></linearGradient><linearGradient id="g102" gradientUnits="userSpaceOnUse" x1="0" x2="240"><stop offset=".0375" stop-color="#00fff3"/><stop offset=".3021" stop-color="#0fe"/><stop offset=".3042" stop-color="#0effee"/><stop offset=".3063" stop-color="#24ffee"/><stop offset=".3146" stop-color="#4cffee"/><stop offset=".3312" stop-color="#77ffed"/><stop offset=".3646" stop-color="#afffec"/><stop offset=".4271" stop-color="#feffea"/><stop offset=".4833" stop-color="#ffcdb9"/><stop offset=".5667" stop-color="#ff9c88"/><stop offset=".7333" stop-color="#ff583e"/><stop offset=".7875" stop-color="#ff441d"/><stop offset=".8063" stop-color="#ff3c07"/><stop offset=".8125" stop-color="#ff3900"/><stop offset=".8667" stop-color="#ff1b00"/></linearGradient><linearGradient id="g103" gradientUnits="userSpaceOnUse" x1="0" x2="240"><stop offset=".0417" stop-color="#00fff6"/><stop offset=".3" stop-color="#00fff2"/><stop offset=".3021" stop-color="#07fff2"/><stop offset=".3042" stop-color="#22fff2"/><stop offset=".3104" stop-color="#43fff2"/><stop offset=".3271" stop-color="#73fff1"/><stop offset=".3604" stop-color="#adfff0"/><stop offset=".4229" stop-color="#fdffee"/><stop offset=".4854" stop-color="#ffc8b9"/><stop offset=".5771" stop-color="#ff9485"/><stop offset=".7708" stop-color="#ff472e"/><stop offset=".8083" stop-color="#ff3710"/><stop offset=".8187" stop-color="#ff3200"/><stop offset=".8646" stop-color="#ff1400"/><stop offset=".8708" stop-color="#ff0c00"/></linearGradient><linearGradient id="g104" gradientUnits="userSpaceOnUse" x1="0" x2="240"><stop offset=".0417" stop-color="#00fff8"/><stop offset=".3" stop-color="#00fff6"/><stop offset=".3021" stop-color="#1ffff6"/><stop offset=".3063" stop-color="#39fff6"/><stop offset=".3187" stop-color="#64fff5"/><stop offset=".3438" stop-color="#97fff5"/><stop offset=".3958" stop-color="#e1fff4"/><stop offset=".4229" stop-color="#fffcf1"/><stop offset=".4729" stop-color="#ffcec3"/><stop offset=".5542" stop-color="#ff9c92"/><stop offset=".7208" stop-color="#ff5649"/><stop offset=".7979" stop-color="#ff3721"/><stop offset=".8208" stop-color="#ff2b08"/><stop offset=".8292" stop-color="#ff2600"/><stop offset=".8583" stop-color="#ff0e00"/><stop offset=".8688" stop-color="#f00"/><stop offset=".8792" stop-color="#f00"/></linearGradient><linearGradient id="g105" gradientUnits="userSpaceOnUse" x1="0" x2="240"><stop offset=".0417" stop-color="#00fffb"/><stop offset=".2979" stop-color="#00fff9"/><stop offset=".3" stop-color="#1cfff9"/><stop offset=".3042" stop-color="#38fff9"/><stop offset=".3146" stop-color="#5efff9"/><stop offset=".3354" stop-color="#8cfff9"/><stop offset=".3771" stop-color="#cdfff9"/><stop offset=".4188" stop-color="#fffdf6"/><stop offset=".4688" stop-color="#ffcec7"/><stop offset=".5479" stop-color="#ff9c96"/><stop offset=".7146" stop-color="#ff554e"/><stop offset=".8021" stop-color="#ff2f23"/><stop offset=".8271" stop-color="#ff200b"/><stop offset=".8354" stop-color="#ff1a00"/><stop offset=".8583" stop-color="#f00"/><stop offset=".8833" stop-color="#f00"/></linearGradient><linearGradient id="g106" gradientUnits="userSpaceOnUse" x1="0" x2="240"><stop offset=".0417" stop-color="#00fffe"/><stop offset=".2958" stop-color="#00fffd"/><stop offset=".3" stop-color="#2afffd"/><stop offset=".3063" stop-color="#49fffd"/><stop offset=".3208" stop-color="#73fffd"/><stop offset=".35" stop-color="#aafffd"/><stop offset=".4125" stop-color="#fefffd"/><stop offset=".4688" stop-color="#ffcac8"/><stop offset=".55" stop-color="#ff9897"/><stop offset=".7271" stop-color="#ff4d4b"/><stop offset=".8125" stop-color="#ff2321"/><stop offset=".8354" stop-color="#ff0f0a"/><stop offset=".8438" stop-color="#ff0200"/><stop offset=".8917" stop-color="#f00"/></linearGradient><linearGradient id="g107" gradientUnits="userSpaceOnUse" x1="0" x2="240"><stop offset=".0458" stop-color="#00feff"/><stop offset=".2938" stop-color="#00fdff"/><stop offset=".2979" stop-color="#28fdff"/><stop offset=".3042" stop-color="#48fdff"/><stop offset=".3208" stop-color="#77fdff"/><stop offset=".3521" stop-color="#affcff"/><stop offset=".4104" stop-color="#fdfcff"/><stop offset=".4729" stop-color="#ffc3c6"/><stop offset=".5583" stop-color="#ff9194"/><stop offset=".7896" stop-color="#ff2b32"/><stop offset=".8229" stop-color="#ff101f"/><stop offset=".8354" stop-color="#ff0014"/><stop offset=".8521" stop-color="#f00"/><stop offset=".8958" stop-color="#f00"/></linearGradient><linearGradient id="g108" gradientUnits="userSpaceOnUse" x1="0" x2="240"><stop offset=".0458" stop-color="#00fbff"/><stop offset=".2917" stop-color="#00f9ff"/><stop offset=".2938" stop-color="#0ef9ff"/><stop offset=".2958" stop-color="#25f9ff"/><stop offset=".3021" stop-color="#46f9ff"/><stop offset=".3167" stop-color="#70f9ff"/><stop offset=".3458" stop-color="#a7f8ff"/><stop offset=".4062" stop-color="#f8f7ff"/><stop offset=".4167" stop-color="#fff2fa"/><stop offset=".4667" stop-color="#ffc4cc"/><stop offset=".5479" stop-color="#ff939a"/><stop offset=".7438" stop-color="#ff3d49"/><stop offset=".8" stop-color="#ff1c31"/><stop offset=".8187" stop-color="#ff0626"/><stop offset=".8271" stop-color="#ff0021"/><stop offset=".8521" stop-color="#ff0008"/><stop offset=".8604" stop-color="#f00"/><stop offset=".9042" stop-color="#f00"/></linearGradient><linearGradient id="g109" gradientUnits="userSpaceOnUse" x1="0" x2="240"><stop offset=".0458" stop-color="#00f8ff"/><stop offset=".2896" stop-color="#00f5ff"/><stop offset=".2917" stop-color="#07f5ff"/><stop offset=".2938" stop-color="#22f5ff"/><stop offset=".3" stop-color="#44f5ff"/><stop offset=".3146" stop-color="#6ff5ff"/><stop offset=".3458" stop-color="#a8f4ff"/><stop offset=".4062" stop-color="#f8f2ff"/><stop offset=".4167" stop-color="#ffedfa"/><stop offset=".4688" stop-color="#ffbfcb"/><stop offset=".55" stop-color="#ff8e9b"/><stop offset=".7083" stop-color="#ff4959"/><stop offset=".7833" stop-color="#ff213b"/><stop offset=".8063" stop-color="#ff0831"/><stop offset=".8146" stop-color="#ff002d"/><stop offset=".8542" stop-color="#ff0010"/><stop offset=".8667" stop-color="#f00"/><stop offset=".9083" stop-color="#f00"/></linearGradient><linearGradient id="g110" gradientUnits="userSpaceOnUse" x1="0" x2="240"><stop offset=".05" stop-color="#00f6ff"/><stop offset=".2896" stop-color="#00f1ff"/><stop offset=".2917" stop-color="#1ef1ff"/><stop offset=".2979" stop-color="#42f1ff"/><stop offset=".3146" stop-color="#72f1ff"/><stop offset=".3458" stop-color="#a9f0ff"/><stop offset=".4042" stop-color="#f5eeff"/><stop offset=".4146" stop-color="#ffebfd"/><stop offset=".4688" stop-color="#fbc"/><stop offset=".5521" stop-color="#ff8a9b"/><stop offset=".7188" stop-color="#ff4057"/><stop offset=".7771" stop-color="#ff1d41"/><stop offset=".7979" stop-color="#ff0338"/><stop offset=".8542" stop-color="#ff0018"/><stop offset=".875" stop-color="#f00"/><stop offset=".9167" stop-color="#f00"/></linearGradient><linearGradient id="g111" gradientUnits="userSpaceOnUse" x1="0" x2="240"><stop offset=".05" stop-color="#00f3ff"/><stop offset=".2875" stop-color="#0ef"/><stop offset=".2896" stop-color="#1beeff"/><stop offset=".2938" stop-color="#36edff"/><stop offset=".3021" stop-color="#55edff"/><stop offset=".3229" stop-color="#85ecff"/><stop offset=".3625" stop-color="#c2ebff"/><stop offset=".4146" stop-color="#ffe7fd"/><stop offset=".4667" stop-color="#ffb9ce"/><stop offset=".5542" stop-color="#ff869b"/><stop offset=".7375" stop-color="#ff3152"/><stop offset=".775" stop-color="#ff1544"/><stop offset=".7896" stop-color="#ff003e"/><stop offset=".8562" stop-color="#ff001c"/><stop offset=".8771" stop-color="#ff0005"/><stop offset=".8875" stop-color="#f00"/><stop offset=".9208" stop-color="#f00"/></linearGradient><linearGradient id="g112" gradientUnits="userSpaceOnUse" x1="0" x2="240"><stop offset=".05" stop-color="#00f0ff"/><stop offset=".2854" stop-color="#00eaff"/><stop offset=".2896" stop-color="#28eaff"/><stop offset=".2958" stop-color="#46eaff"/><stop offset=".3104" stop-color="#6ee9ff"/><stop offset=".3417" stop-color="#a6e7ff"/><stop offset=".4062" stop-color="#f7e4ff"/><stop offset=".4188" stop-color="#ffdef9"/><stop offset=".4771" stop-color="#ffaec8"/><stop offset=".5646" stop-color="#ff7d97"/><stop offset=".7417" stop-color="#ff2853"/><stop offset=".7708" stop-color="#ff0b48"/><stop offset=".7792" stop-color="#ff0045"/><stop offset=".8625" stop-color="#ff001d"/><stop offset=".8917" stop-color="#f00"/><stop offset=".9292" stop-color="#f00"/></linearGradient><linearGradient id="g113" gradientUnits="userSpaceOnUse" x1="0" x2="240"><stop offset=".0542" stop-color="#0ef"/><stop offset=".2833" stop-color="#00e6ff"/><stop offset=".2875" stop-color="#25e6ff"/><stop offset=".2938" stop-color="#44e6ff"/><stop offset=".3083" stop-color="#6de5ff"/><stop offset=".3417" stop-color="#a7e3ff"/><stop offset=".4021" stop-color="#f2e0ff"/><stop offset=".4167" stop-color="#ffdcfc"/><stop offset=".4708" stop-color="#ffafcd"/><stop offset=".5583" stop-color="#ff7d9c"/><stop offset=".7208" stop-color="#ff2e5c"/><stop offset=".7542" stop-color="#ff1350"/><stop offset=".7667" stop-color="#ff004c"/><stop offset=".8625" stop-color="#f02"/><stop offset=".8896" stop-color="#ff000a"/><stop offset=".9" stop-color="#f00"/><stop offset=".9333" stop-color="#f00"/></linearGradient><linearGradient id="g114" gradientUnits="userSpaceOnUse" x1="0" x2="240"><stop offset=".0542" stop-color="#00ebff"/><stop offset=".2812" stop-color="#00e3ff"/><stop offset=".2833" stop-color="#0de3ff"/><stop offset=".2854" stop-color="#23e3ff"/><stop offset=".2917" stop-color="#42e2ff"/><stop offset=".3083" stop-color="#70e1ff"/><stop offset=".3417" stop-color="#a8dfff"/><stop offset=".4062" stop-color="#f7dbff"/><stop offset=".4188" stop-color="#ffd5fa"/><stop offset=".475" stop-color="#ffa8cb"/><stop offset=".5667" stop-color="#ff7599"/><stop offset=".7146" stop-color="#ff2c60"/><stop offset=".7479" stop-color="#ff0c55"/><stop offset=".7562" stop-color="#ff0052"/><stop offset=".8667" stop-color="#ff0024"/><stop offset=".8958" stop-color="#ff000c"/><stop offset=".9062" stop-color="#f00"/><stop offset=".9417" stop-color="#f00"/></linearGradient><linearGradient id="g115" gradientUnits="userSpaceOnUse" x1="0" x2="240"><stop offset=".0542" stop-color="#00e8ff"/><stop offset=".2792" stop-color="#00dfff"/><stop offset=".2812" stop-color="#06dfff"/><stop offset=".2833" stop-color="#20dfff"/><stop offset=".2896" stop-color="#40dfff"/><stop offset=".3021" stop-color="#65deff"/><stop offset=".3292" stop-color="#97dcff"/><stop offset=".3875" stop-color="#e2d8ff"/><stop offset=".4167" stop-color="#ffd3fc"/><stop offset=".475" stop-color="#ffa4cc"/><stop offset=".5667" stop-color="#ff719a"/><stop offset=".6979" stop-color="#ff3068"/><stop offset=".7312" stop-color="#ff145c"/><stop offset=".7438" stop-color="#ff0058"/><stop offset=".8667" stop-color="#ff0028"/><stop offset=".9021" stop-color="#ff000e"/><stop offset=".9146" stop-color="#f00"/><stop offset=".9458" stop-color="#f00"/></linearGradient><linearGradient id="g116" gradientUnits="userSpaceOnUse" x1="0" x2="240"><stop offset=".0542" stop-color="#00e6ff"/><stop offset=".2792" stop-color="#00dcff"/><stop offset=".2812" stop-color="#1cdbff"/><stop offset=".2854" stop-color="#36dbff"/><stop offset=".2979" stop-color="#5edaff"/><stop offset=".325" stop-color="#92d8ff"/><stop offset=".375" stop-color="#d4d4ff"/><stop offset=".4167" stop-color="#ffcefd"/><stop offset=".4729" stop-color="#ffa2ce"/><stop offset=".5687" stop-color="#ff6d9a"/><stop offset=".6917" stop-color="#ff2d6b"/><stop offset=".725" stop-color="#ff0d60"/><stop offset=".7333" stop-color="#ff005d"/><stop offset=".8688" stop-color="#ff002a"/><stop offset=".9062" stop-color="#ff0012"/><stop offset=".9229" stop-color="#f00"/><stop offset=".9542" stop-color="#f00"/></linearGradient><linearGradient id="g117" gradientUnits="userSpaceOnUse" x1="0" x2="240"><stop offset=".0583" stop-color="#00e3ff"/><stop offset=".2771" stop-color="#00d8ff"/><stop offset=".2792" stop-color="#19d8ff"/><stop offset=".2833" stop-color="#34d8ff"/><stop offset=".2958" stop-color="#5dd7ff"/><stop offset=".325" stop-color="#94d4ff"/><stop offset=".3812" stop-color="#dbcfff"/><stop offset=".4167" stop-color="#ffcafd"/><stop offset=".4729" stop-color="#ff9ecf"/><stop offset=".5667" stop-color="#ff6a9c"/><stop offset=".6813" stop-color="#ff2d70"/><stop offset=".7125" stop-color="#ff0f66"/><stop offset=".7229" stop-color="#ff0062"/><stop offset=".875" stop-color="#ff002b"/><stop offset=".9167" stop-color="#ff000f"/><stop offset=".9292" stop-color="#f00"/><stop offset=".9583" stop-color="#f00"/></linearGradient><linearGradient id="g118" gradientUnits="userSpaceOnUse" x1="0" x2="240"><stop offset=".0583" stop-color="#00e0ff"/><stop offset=".275" stop-color="#00d5ff"/><stop offset=".2792" stop-color="#26d4ff"/><stop offset=".2875" stop-color="#4ad4ff"/><stop offset=".3083" stop-color="#7ad2ff"/><stop offset=".3563" stop-color="#bfceff"/><stop offset=".4167" stop-color="#ffc5fd"/><stop offset=".4771" stop-color="#ff97cd"/><stop offset=".5646" stop-color="#ff679e"/><stop offset=".6708" stop-color="#ff2d75"/><stop offset=".7021" stop-color="#ff0e6b"/><stop offset=".7104" stop-color="#ff0068"/><stop offset=".8812" stop-color="#ff002b"/><stop offset=".9229" stop-color="#ff0010"/><stop offset=".9375" stop-color="#f00"/><stop offset=".9667" stop-color="#f00"/></linearGradient><linearGradient id="g119" gradientUnits="userSpaceOnUse" x1="0" x2="240"><stop offset=".0583" stop-color="#00deff"/><stop offset=".2729" stop-color="#00d1ff"/><stop offset=".2771" stop-color="#23d1ff"/><stop offset=".2833" stop-color="#41d0ff"/><stop offset=".2979" stop-color="#68cfff"/><stop offset=".3292" stop-color="#9dccff"/><stop offset=".3958" stop-color="#ebc5ff"/><stop offset=".4188" stop-color="#ffbffc"/><stop offset=".4792" stop-color="#ff92cc"/><stop offset=".5813" stop-color="#ff5a98"/><stop offset=".6667" stop-color="#ff2878"/><stop offset=".6896" stop-color="#ff1071"/><stop offset=".6979" stop-color="#ff006e"/><stop offset=".8854" stop-color="#ff002c"/><stop offset=".9313" stop-color="#ff0010"/><stop offset=".9458" stop-color="#f00"/><stop offset=".9708" stop-color="#f00"/></linearGradient><linearGradient id="g120" gradientUnits="userSpaceOnUse" x1="0" x2="240"><stop offset=".0625" stop-color="#00dbff"/><stop offset=".2708" stop-color="#00ceff"/><stop offset=".2729" stop-color="#0bceff"/><stop offset=".275" stop-color="#21cdff"/><stop offset=".2812" stop-color="#3fcdff"/><stop offset=".2938" stop-color="#62ccff"/><stop offset=".3208" stop-color="#92c9ff"/><stop offset=".375" stop-color="#d5c3ff"/><stop offset=".4188" stop-color="#ffbafc"/><stop offset=".4833" stop-color="#ff8bca"/><stop offset=".6062" stop-color="#ff488f"/><stop offset=".6646" stop-color="#ff217a"/><stop offset=".6833" stop-color="#ff0674"/><stop offset=".6917" stop-color="#ff0071"/><stop offset=".8854" stop-color="#ff002f"/><stop offset=".9354" stop-color="#ff0013"/><stop offset=".9542" stop-color="#f00"/><stop offset=".975" stop-color="#f00"/></linearGradient><linearGradient id="g121" gradientUnits="userSpaceOnUse" x1="0" x2="240"><stop offset=".0625" stop-color="#00d8ff"/><stop offset=".2687" stop-color="#00caff"/><stop offset=".2708" stop-color="#05caff"/><stop offset=".2729" stop-color="#1ecaff"/><stop offset=".2792" stop-color="#3dc9ff"/><stop offset=".2917" stop-color="#60c8ff"/><stop offset=".3167" stop-color="#8dc6ff"/><stop offset=".3646" stop-color="#cac0ff"/><stop offset=".4167" stop-color="#ffb8fe"/><stop offset=".4792" stop-color="#ff8ace"/><stop offset=".5792" stop-color="#ff529b"/><stop offset=".6479" stop-color="#ff2681"/><stop offset=".6687" stop-color="#ff0d7a"/><stop offset=".675" stop-color="#ff0078"/><stop offset=".8979" stop-color="#ff002d"/><stop offset=".9437" stop-color="#ff0012"/><stop offset=".9625" stop-color="#f00"/></linearGradient><linearGradient id="g122" gradientUnits="userSpaceOnUse" x1="0" x2="240"><stop offset=".0667" stop-color="#00d6ff"/><stop offset=".2687" stop-color="#00c7ff"/><stop offset=".2708" stop-color="#1bc7ff"/><stop offset=".2771" stop-color="#3cc6ff"/><stop offset=".2917" stop-color="#64c5ff"/><stop offset=".3229" stop-color="#98c1ff"/><stop offset=".3812" stop-color="#dcb9ff"/><stop offset=".4188" stop-color="#ffb1fd"/><stop offset=".4771" stop-color="#ff87d0"/><stop offset=".5792" stop-color="#ff4d9c"/><stop offset=".6417" stop-color="#ff2285"/><stop offset=".6604" stop-color="#ff077e"/><stop offset=".6667" stop-color="#ff007c"/><stop offset=".9021" stop-color="#ff002e"/><stop offset=".95" stop-color="#ff0013"/></linearGradient><linearGradient id="g123" gradientUnits="userSpaceOnUse" x1="0" x2="240"><stop offset=".0667" stop-color="#00d3ff"/><stop offset=".2667" stop-color="#00c4ff"/><stop offset=".2687" stop-color="#17c3ff"/><stop offset=".2729" stop-color="#31c3ff"/><stop offset=".2854" stop-color="#59c2ff"/><stop offset=".3104" stop-color="#87bfff"/><stop offset=".3563" stop-color="#c2b9ff"/><stop offset=".4188" stop-color="#ffadfd"/><stop offset=".4875" stop-color="#ff7cca"/><stop offset=".6021" stop-color="#ff3994"/><stop offset=".6396" stop-color="#ff1887"/><stop offset=".6521" stop-color="#ff0082"/><stop offset=".9062" stop-color="#ff002f"/><stop offset=".9375" stop-color="#ff0021"/></linearGradient><linearGradient id="g124" gradientUnits="userSpaceOnUse" x1="0" x2="240"><stop offset=".0667" stop-color="#00d0ff"/><stop offset=".2646" stop-color="#00c0ff"/><stop offset=".2687" stop-color="#24c0ff"/><stop offset=".2771" stop-color="#46bfff"/><stop offset=".2938" stop-color="#6dbdff"/><stop offset=".3292" stop-color="#a3b8ff"/><stop offset=".4042" stop-color="#f3acff"/><stop offset=".4208" stop-color="#ffa6fb"/><stop offset=".4896" stop-color="#ff76ca"/><stop offset=".6" stop-color="#ff3396"/><stop offset=".6312" stop-color="#ff148b"/><stop offset=".6417" stop-color="#ff0087"/><stop offset=".9187" stop-color="#ff002d"/><stop offset=".925" stop-color="#ff002a"/></linearGradient><linearGradient id="g125" gradientUnits="userSpaceOnUse" x1="0" x2="240"><stop offset=".0708" stop-color="#00cdff"/><stop offset=".2625" stop-color="#00bdff"/><stop offset=".2667" stop-color="#22bdff"/><stop offset=".275" stop-color="#45bcff"/><stop offset=".2938" stop-color="#70b9ff"/><stop offset=".3333" stop-color="#a9b4ff"/><stop offset=".4167" stop-color="#ffa5ff"/><stop offset=".4917" stop-color="#ff70c9"/><stop offset=".5958" stop-color="#ff2e99"/><stop offset=".6208" stop-color="#ff1390"/><stop offset=".6312" stop-color="#ff008c"/><stop offset=".9125" stop-color="#ff0032"/></linearGradient><linearGradient id="g126" gradientUnits="userSpaceOnUse" x1="0" x2="240"><stop offset=".0708" stop-color="#00cbff"/><stop offset=".2604" stop-color="#00baff"/><stop offset=".2625" stop-color="#0ab9ff"/><stop offset=".2646" stop-color="#1fb9ff"/><stop offset=".2708" stop-color="#3cb8ff"/><stop offset=".2833" stop-color="#5eb7ff"/><stop offset=".3125" stop-color="#8fb3ff"/><stop offset=".3667" stop-color="#ceaaff"/><stop offset=".4188" stop-color="#ff9efe"/><stop offset=".4896" stop-color="#ff6dcb"/><stop offset=".5854" stop-color="#ff2e9e"/><stop offset=".6104" stop-color="#ff1294"/><stop offset=".6188" stop-color="#ff0091"/><stop offset=".8958" stop-color="#ff003b"/></linearGradient><linearGradient id="g127" gradientUnits="userSpaceOnUse" x1="0" x2="240"><stop offset=".0708" stop-color="#00c8ff"/><stop offset=".2583" stop-color="#00b6ff"/><stop offset=".2604" stop-color="#04b6ff"/><stop offset=".2625" stop-color="#1cb6ff"/><stop offset=".2687" stop-color="#3bb5ff"/><stop offset=".2833" stop-color="#61b3ff"/><stop offset=".3125" stop-color="#91afff"/><stop offset=".375" stop-color="#d7a4ff"/><stop offset=".4208" stop-color="#ff98fc"/><stop offset=".4896" stop-color="#ff68cc"/><stop offset=".5771" stop-color="#ff2ca2"/><stop offset=".6" stop-color="#f19"/><stop offset=".6083" stop-color="#ff0096"/><stop offset=".8833" stop-color="#ff0041"/></linearGradient><linearGradient id="g128" gradientUnits="userSpaceOnUse" x1="0" x2="240"><stop offset=".075" stop-color="#00c5ff"/><stop offset=".2583" stop-color="#00b3ff"/><stop offset=".2604" stop-color="#19b3ff"/><stop offset=".2646" stop-color="#31b2ff"/><stop offset=".2771" stop-color="#57b0ff"/><stop offset=".3042" stop-color="#87acff"/><stop offset=".3625" stop-color="#cba2ff"/><stop offset=".4208" stop-color="#ff93fd"/><stop offset=".4854" stop-color="#ff65cf"/><stop offset=".5646" stop-color="#ff2ea8"/><stop offset=".5875" stop-color="#ff139f"/><stop offset=".5958" stop-color="#ff009c"/><stop offset=".8083" stop-color="#ff0059"/><stop offset=".8708" stop-color="#ff0047"/></linearGradient><linearGradient id="g129" gradientUnits="userSpaceOnUse" x1="0" x2="240"><stop offset=".075" stop-color="#00c3ff"/><stop offset=".2562" stop-color="#00b0ff"/><stop offset=".2583" stop-color="#16afff"/><stop offset=".2625" stop-color="#2fafff"/><stop offset=".2729" stop-color="#50adff"/><stop offset=".2958" stop-color="#7caaff"/><stop offset=".3438" stop-color="#b8a1ff"/><stop offset=".4188" stop-color="#ff8fff"/><stop offset=".4833" stop-color="#ff61d1"/><stop offset=".5563" stop-color="#ff2cad"/><stop offset=".5771" stop-color="#ff12a4"/><stop offset=".5854" stop-color="#ff00a1"/><stop offset=".7812" stop-color="#ff0062"/><stop offset=".8583" stop-color="#ff004c"/></linearGradient><linearGradient id="g130" gradientUnits="userSpaceOnUse" x1="0" x2="240"><stop offset=".0792" stop-color="#00c0ff"/><stop offset=".2542" stop-color="#00acff"/><stop offset=".2583" stop-color="#22acff"/><stop offset=".2667" stop-color="#44abff"/><stop offset=".2875" stop-color="#71a7ff"/><stop offset=".3292" stop-color="#a9a0ff"/><stop offset=".4188" stop-color="#ff8aff"/><stop offset=".4875" stop-color="#ff59cf"/><stop offset=".5521" stop-color="#ff26af"/><stop offset=".5687" stop-color="#ff0ca8"/><stop offset=".5729" stop-color="#ff00a7"/><stop offset=".7396" stop-color="#ff006f"/><stop offset=".8417" stop-color="#ff0053"/></linearGradient><linearGradient id="g131" gradientUnits="userSpaceOnUse" x1="0" x2="240"><stop offset=".0792" stop-color="#00bdff"/><stop offset=".2521" stop-color="#00a9ff"/><stop offset=".2562" stop-color="#20a9ff"/><stop offset=".2646" stop-color="#42a7ff"/><stop offset=".2833" stop-color="#6ca4ff"/><stop offset=".3229" stop-color="#a39dff"/><stop offset=".4188" stop-color="#ff85ff"/><stop offset=".4875" stop-color="#ff53d0"/><stop offset=".5437" stop-color="#ff23b4"/><stop offset=".5583" stop-color="#ff0aae"/><stop offset=".5625" stop-color="#ff00ac"/><stop offset=".7229" stop-color="#ff0075"/><stop offset=".8292" stop-color="#ff0058"/></linearGradient><linearGradient id="g132" gradientUnits="userSpaceOnUse" x1="0" x2="240"><stop offset=".0792" stop-color="#00baff"/><stop offset=".25" stop-color="#00a6ff"/><stop offset=".2521" stop-color="#09a6ff"/><stop offset=".2542" stop-color="#1da5ff"/><stop offset=".2625" stop-color="#41a4ff"/><stop offset=".2792" stop-color="#67a1ff"/><stop offset=".3187" stop-color="#9f9aff"/><stop offset=".4188" stop-color="#ff7fff"/><stop offset=".4938" stop-color="#ff47cd"/><stop offset=".5375" stop-color="#ff1db7"/><stop offset=".55" stop-color="#ff01b2"/><stop offset=".7" stop-color="#ff007d"/><stop offset=".8167" stop-color="#ff005d"/></linearGradient><linearGradient id="g133" gradientUnits="userSpaceOnUse" x1="0" x2="240"><stop offset=".0833" stop-color="#00b7ff"/><stop offset=".2479" stop-color="#00a3ff"/><stop offset=".25" stop-color="#04a2ff"/><stop offset=".2521" stop-color="#1ba2ff"/><stop offset=".2583" stop-color="#38a1ff"/><stop offset=".2729" stop-color="#5e9eff"/><stop offset=".3063" stop-color="#9198ff"/><stop offset=".3708" stop-color="#d589ff"/><stop offset=".4208" stop-color="#ff78fe"/><stop offset=".4896" stop-color="#ff43d0"/><stop offset=".525" stop-color="#ff1fbe"/><stop offset=".5354" stop-color="#ff0bb9"/><stop offset=".5396" stop-color="#ff00b7"/><stop offset=".6875" stop-color="#ff0082"/><stop offset=".8042" stop-color="#ff0061"/></linearGradient><linearGradient id="g134" gradientUnits="userSpaceOnUse" x1="0" x2="240"><stop offset=".0833" stop-color="#00b4ff"/><stop offset=".2479" stop-color="#009fff"/><stop offset=".25" stop-color="#189fff"/><stop offset=".2562" stop-color="#379eff"/><stop offset=".2687" stop-color="#589bff"/><stop offset=".2958" stop-color="#8596ff"/><stop offset=".3542" stop-color="#c588ff"/><stop offset=".4208" stop-color="#ff72fe"/><stop offset=".4958" stop-color="#ff34cd"/><stop offset=".5208" stop-color="#ff14c1"/><stop offset=".5292" stop-color="#ff00bd"/><stop offset=".6583" stop-color="#ff008c"/><stop offset=".7917" stop-color="#f06"/></linearGradient><linearGradient id="g135" gradientUnits="userSpaceOnUse" x1="0" x2="240"><stop offset=".0875" stop-color="#00b1ff"/><stop offset=".2458" stop-color="#009cff"/><stop offset=".2479" stop-color="#159bff"/><stop offset=".2521" stop-color="#2d9bff"/><stop offset=".2625" stop-color="#4d99ff"/><stop offset=".2875" stop-color="#7b94ff"/><stop offset=".3396" stop-color="#b888ff"/><stop offset=".4208" stop-color="#ff6bfe"/><stop offset=".4938" stop-color="#ff2ccf"/><stop offset=".5104" stop-color="#ff12c6"/><stop offset=".5167" stop-color="#ff00c3"/><stop offset=".6542" stop-color="#ff008e"/><stop offset=".775" stop-color="#ff006c"/></linearGradient><linearGradient id="g136" gradientUnits="userSpaceOnUse" x1="0" x2="240"><stop offset=".0875" stop-color="#00aeff"/><stop offset=".2437" stop-color="#09f"/><stop offset=".2479" stop-color="#2198ff"/><stop offset=".2562" stop-color="#4196ff"/><stop offset=".2729" stop-color="#6693ff"/><stop offset=".3125" stop-color="#9c8aff"/><stop offset=".3979" stop-color="#ed6fff"/><stop offset=".4229" stop-color="#ff63fd"/><stop offset=".4854" stop-color="#ff29d4"/><stop offset=".5" stop-color="#ff10cc"/><stop offset=".5062" stop-color="#ff00c9"/><stop offset=".6271" stop-color="#ff0098"/><stop offset=".7625" stop-color="#ff0070"/></linearGradient><linearGradient id="g137" gradientUnits="userSpaceOnUse" x1="0" x2="240"><stop offset=".0917" stop-color="#00abff"/><stop offset=".2417" stop-color="#0095ff"/><stop offset=".2479" stop-color="#2994ff"/><stop offset=".2583" stop-color="#4b92ff"/><stop offset=".2812" stop-color="#758dff"/><stop offset=".3312" stop-color="#b180ff"/><stop offset=".4167" stop-color="#fc60ff"/><stop offset=".4708" stop-color="#ff2edd"/><stop offset=".4875" stop-color="#ff14d3"/><stop offset=".4938" stop-color="#ff00d0"/><stop offset=".6062" stop-color="#ff00a0"/><stop offset=".75" stop-color="#ff0075"/></linearGradient><linearGradient id="g138" gradientUnits="userSpaceOnUse" x1="0" x2="240"><stop offset=".0917" stop-color="#00a8ff"/><stop offset=".2396" stop-color="#0092ff"/><stop offset=".2417" stop-color="#0892ff"/><stop offset=".2437" stop-color="#1c91ff"/><stop offset=".25" stop-color="#3890ff"/><stop offset=".2646" stop-color="#5c8dff"/><stop offset=".3042" stop-color="#9583ff"/><stop offset=".3812" stop-color="#df6aff"/><stop offset=".4229" stop-color="#ff54fd"/><stop offset=".4646" stop-color="#ff28e1"/><stop offset=".4792" stop-color="#ff0cd8"/><stop offset=".4833" stop-color="#ff00d6"/><stop offset=".5917" stop-color="#ff00a6"/><stop offset=".7375" stop-color="#ff0079"/></linearGradient><linearGradient id="g139" gradientUnits="userSpaceOnUse" x1="0" x2="240"><stop offset=".0958" stop-color="#00a5ff"/><stop offset=".2396" stop-color="#038eff"/><stop offset=".2417" stop-color="#198eff"/><stop offset=".2458" stop-color="#2f8dff"/><stop offset=".2583" stop-color="#528aff"/><stop offset=".2854" stop-color="#7f84ff"/><stop offset=".3438" stop-color="#be72ff"/><stop offset=".4125" stop-color="#f853ff"/><stop offset=".4271" stop-color="#ff47fb"/><stop offset=".4583" stop-color="#ff22e5"/><stop offset=".4688" stop-color="#ff09df"/><stop offset=".4708" stop-color="#ff01de"/><stop offset=".5771" stop-color="#ff00ac"/><stop offset=".7208" stop-color="#ff007f"/></linearGradient><linearGradient id="g140" gradientUnits="userSpaceOnUse" x1="0" x2="240"><stop offset=".0958" stop-color="#00a2ff"/><stop offset=".2375" stop-color="#008bff"/><stop offset=".2396" stop-color="#178aff"/><stop offset=".2458" stop-color="#3589ff"/><stop offset=".2625" stop-color="#5d85ff"/><stop offset=".2979" stop-color="#907cff"/><stop offset=".375" stop-color="#da60ff"/><stop offset=".4229" stop-color="#ff42fe"/><stop offset=".45" stop-color="#ff1deb"/><stop offset=".4604" stop-color="#ff00e4"/><stop offset=".5687" stop-color="#ff00b0"/><stop offset=".7083" stop-color="#ff0083"/></linearGradient><linearGradient id="g141" gradientUnits="userSpaceOnUse" x1="0" x2="240"><stop offset=".0958" stop-color="#009fff"/><stop offset=".2354" stop-color="#0087ff"/><stop offset=".2396" stop-color="#2287ff"/><stop offset=".25" stop-color="#4684ff"/><stop offset=".275" stop-color="#747eff"/><stop offset=".3208" stop-color="#a970ff"/><stop offset=".4" stop-color="#ee4aff"/><stop offset=".425" stop-color="#ff33fd"/><stop offset=".4417" stop-color="#ff18f1"/><stop offset=".4479" stop-color="#ff02ed"/><stop offset=".5312" stop-color="#ff00c1"/><stop offset=".6667" stop-color="#ff0090"/><stop offset=".6958" stop-color="#f08"/></linearGradient><linearGradient id="g142" gradientUnits="userSpaceOnUse" x1="0" x2="240"><stop offset=".1" stop-color="#009cff"/><stop offset=".2333" stop-color="#0084ff"/><stop offset=".2396" stop-color="#2a83ff"/><stop offset=".2521" stop-color="#4e80ff"/><stop offset=".2771" stop-color="#7879ff"/><stop offset=".3271" stop-color="#b068ff"/><stop offset=".3875" stop-color="#e44aff"/><stop offset=".4208" stop-color="#fe2aff"/><stop offset=".4333" stop-color="#ff10f7"/><stop offset=".4375" stop-color="#ff00f4"/><stop offset=".525" stop-color="#ff00c4"/><stop offset=".6625" stop-color="#ff0092"/><stop offset=".6833" stop-color="#ff008c"/></linearGradient><linearGradient id="g143" gradientUnits="userSpaceOnUse" x1="0" x2="240"><stop offset=".1042" stop-color="#0098ff"/><stop offset=".2313" stop-color="#0081ff"/><stop offset=".2375" stop-color="#287fff"/><stop offset=".2479" stop-color="#487cff"/><stop offset=".2687" stop-color="#6e77ff"/><stop offset=".3146" stop-color="#a568ff"/><stop offset=".3792" stop-color="#de47ff"/><stop offset=".4104" stop-color="#f628ff"/><stop offset=".4208" stop-color="#fe14ff"/><stop offset=".4271" stop-color="#ff00fc"/><stop offset=".5062" stop-color="#ff00cd"/><stop offset=".6354" stop-color="#ff009b"/><stop offset=".6708" stop-color="#ff0091"/></linearGradient><linearGradient id="g144" gradientUnits="userSpaceOnUse" x1="0" x2="240"><stop offset=".1042" stop-color="#0095ff"/><stop offset=".2292" stop-color="#007dff"/><stop offset=".2313" stop-color="#077dff"/><stop offset=".2333" stop-color="#1b7cff"/><stop offset=".2396" stop-color="#367aff"/><stop offset=".2562" stop-color="#5c76ff"/><stop offset=".2896" stop-color="#8b6bff"/><stop offset=".3604" stop-color="#cf4bff"/><stop offset=".3958" stop-color="#eb2cff"/><stop offset=".4083" stop-color="#f417ff"/><stop offset=".4146" stop-color="#f900ff"/><stop offset=".4313" stop-color="#ff00f9"/><stop offset=".5125" stop-color="#ff00cb"/><stop offset=".6417" stop-color="#ff009a"/><stop offset=".6542" stop-color="#ff0096"/></linearGradient><linearGradient id="g145" gradientUnits="userSpaceOnUse" x1="0" x2="240"><stop offset=".1083" stop-color="#0092ff"/><stop offset=".2292" stop-color="#0279ff"/><stop offset=".2313" stop-color="#1878ff"/><stop offset=".2375" stop-color="#3477ff"/><stop offset=".2521" stop-color="#5773ff"/><stop offset=".2875" stop-color="#8a67ff"/><stop offset=".3583" stop-color="#cd44ff"/><stop offset=".3896" stop-color="#e625ff"/><stop offset=".4" stop-color="#ee0eff"/><stop offset=".4042" stop-color="#f100ff"/><stop offset=".4271" stop-color="#ff00fc"/><stop offset=".5146" stop-color="#ff00ca"/><stop offset=".6417" stop-color="#ff009b"/></linearGradient><linearGradient id="g146" gradientUnits="userSpaceOnUse" x1="0" x2="240"><stop offset=".1083" stop-color="#008fff"/><stop offset=".2271" stop-color="#0075ff"/><stop offset=".2292" stop-color="#1575ff"/><stop offset=".2354" stop-color="#3373ff"/><stop offset=".25" stop-color="#566fff"/><stop offset=".2854" stop-color="#8962ff"/><stop offset=".3458" stop-color="#c344ff"/><stop offset=".3792" stop-color="#de23ff"/><stop offset=".3896" stop-color="#e60aff"/><stop offset=".3917" stop-color="#e801ff"/><stop offset=".4271" stop-color="#ff00fc"/><stop offset=".5146" stop-color="#ff00cb"/><stop offset=".6292" stop-color="#ff00a0"/></linearGradient><linearGradient id="g147" gradientUnits="userSpaceOnUse" x1="0" x2="240"><stop offset=".1125" stop-color="#008bff"/><stop offset=".225" stop-color="#0072ff"/><stop offset=".2292" stop-color="#2070ff"/><stop offset=".2375" stop-color="#3e6eff"/><stop offset=".2604" stop-color="#6a66ff"/><stop offset=".3063" stop-color="#a053ff"/><stop offset=".3521" stop-color="#c935ff"/><stop offset=".3729" stop-color="#d919ff"/><stop offset=".3812" stop-color="#e000ff"/><stop offset=".4271" stop-color="#ff00fd"/><stop offset=".5104" stop-color="#ff00cd"/><stop offset=".6167" stop-color="#ff00a5"/></linearGradient><linearGradient id="g148" gradientUnits="userSpaceOnUse" x1="0" x2="240"><stop offset=".1125" stop-color="#08f"/><stop offset=".2229" stop-color="#006eff"/><stop offset=".2271" stop-color="#1e6dff"/><stop offset=".2354" stop-color="#3d6aff"/><stop offset=".2583" stop-color="#6962ff"/><stop offset=".3042" stop-color="#9f4eff"/><stop offset=".3479" stop-color="#c62dff"/><stop offset=".3625" stop-color="#d117ff"/><stop offset=".3688" stop-color="#d602ff"/><stop offset=".4271" stop-color="#ff00fd"/><stop offset=".5083" stop-color="#ff00cf"/><stop offset=".6" stop-color="#ff00ab"/></linearGradient><linearGradient id="g149" gradientUnits="userSpaceOnUse" x1="0" x2="240"><stop offset=".1167" stop-color="#0084ff"/><stop offset=".2208" stop-color="#006aff"/><stop offset=".2271" stop-color="#2668ff"/><stop offset=".2375" stop-color="#4665ff"/><stop offset=".2604" stop-color="#6e5cff"/><stop offset=".3104" stop-color="#a642ff"/><stop offset=".3417" stop-color="#c126ff"/><stop offset=".3542" stop-color="#cb0eff"/><stop offset=".3583" stop-color="#ce00ff"/><stop offset=".4271" stop-color="#ff00fd"/><stop offset=".5104" stop-color="#ff00cf"/><stop offset=".5875" stop-color="#ff00b0"/></linearGradient><linearGradient id="g150" gradientUnits="userSpaceOnUse" x1="0" x2="240"><stop offset=".1167" stop-color="#0080ff"/><stop offset=".2188" stop-color="#06f"/><stop offset=".2208" stop-color="#0765ff"/><stop offset=".2229" stop-color="#1a65ff"/><stop offset=".2313" stop-color="#3a62ff"/><stop offset=".25" stop-color="#615bff"/><stop offset=".2896" stop-color="#9248ff"/><stop offset=".3271" stop-color="#b52aff"/><stop offset=".3417" stop-color="#c112ff"/><stop offset=".3479" stop-color="#c600ff"/><stop offset=".4271" stop-color="#ff00fd"/><stop offset=".5208" stop-color="#ff00ca"/><stop offset=".575" stop-color="#ff00b5"/></linearGradient><linearGradient id="g151" gradientUnits="userSpaceOnUse" x1="0" x2="240"><stop offset=".1208" stop-color="#007cff"/><stop offset=".2188" stop-color="#0261ff"/><stop offset=".2208" stop-color="#1761ff"/><stop offset=".2271" stop-color="#335eff"/><stop offset=".2437" stop-color="#5958ff"/><stop offset=".2792" stop-color="#8846ff"/><stop offset=".3167" stop-color="#ad28ff"/><stop offset=".3312" stop-color="#b90fff"/><stop offset=".3354" stop-color="#bd00ff"/><stop offset=".4271" stop-color="#ff00fd"/><stop offset=".5208" stop-color="#ff00cb"/><stop offset=".5625" stop-color="#ff00ba"/></linearGradient><linearGradient id="g152" gradientUnits="userSpaceOnUse" x1="0" x2="240"><stop offset=".1208" stop-color="#0078ff"/><stop offset=".2167" stop-color="#005dff"/><stop offset=".2188" stop-color="#145cff"/><stop offset=".2229" stop-color="#2a5bff"/><stop offset=".2354" stop-color="#4c56ff"/><stop offset=".2646" stop-color="#7947ff"/><stop offset=".3021" stop-color="#a02bff"/><stop offset=".3187" stop-color="#af12ff"/><stop offset=".325" stop-color="#b500ff"/><stop offset=".4271" stop-color="#ff00fe"/><stop offset=".5146" stop-color="#ff00ce"/><stop offset=".55" stop-color="#ff00c0"/></linearGradient><linearGradient id="g153" gradientUnits="userSpaceOnUse" x1="0" x2="240"><stop offset=".125" stop-color="#0074ff"/><stop offset=".2146" stop-color="#0059ff"/><stop offset=".2188" stop-color="#1f57ff"/><stop offset=".2271" stop-color="#3c54ff"/><stop offset=".2479" stop-color="#644aff"/><stop offset=".2875" stop-color="#932eff"/><stop offset=".3063" stop-color="#a514ff"/><stop offset=".3125" stop-color="#ab00ff"/><stop offset=".425" stop-color="#f0f"/><stop offset=".5188" stop-color="#ff00cd"/><stop offset=".5333" stop-color="#ff00c7"/></linearGradient><linearGradient id="g154" gradientUnits="userSpaceOnUse" x1="0" x2="240"><stop offset=".1292" stop-color="#006fff"/><stop offset=".2125" stop-color="#0054ff"/><stop offset=".2188" stop-color="#2751ff"/><stop offset=".2313" stop-color="#4a4cff"/><stop offset=".2604" stop-color="#773bff"/><stop offset=".2896" stop-color="#961eff"/><stop offset=".3021" stop-color="#a200ff"/><stop offset=".4" stop-color="#e0f"/><stop offset=".4292" stop-color="#ff00fd"/><stop offset=".5188" stop-color="#ff00cd"/><stop offset=".5208" stop-color="#ff00cd"/></linearGradient><linearGradient id="g155" gradientUnits="userSpaceOnUse" x1="0" x2="240"><stop offset=".1292" stop-color="#006bff"/><stop offset=".2104" stop-color="#004fff"/><stop offset=".2125" stop-color="#0a4eff"/><stop offset=".2146" stop-color="#1b4dff"/><stop offset=".2229" stop-color="#3a49ff"/><stop offset=".2437" stop-color="#623eff"/><stop offset=".2792" stop-color="#8d1cff"/><stop offset=".2875" stop-color="#9509ff"/><stop offset=".2896" stop-color="#9701ff"/><stop offset=".3729" stop-color="#db00ff"/><stop offset=".4292" stop-color="#ff00fd"/><stop offset=".5083" stop-color="#ff00d3"/></linearGradient><linearGradient id="g156" gradientUnits="userSpaceOnUse" x1="0" x2="240"><stop offset=".1333" stop-color="#06f"/><stop offset=".2083" stop-color="#004aff"/><stop offset=".2104" stop-color="#0649ff"/><stop offset=".2125" stop-color="#1848ff"/><stop offset=".2188" stop-color="#3245ff"/><stop offset=".2333" stop-color="#533cff"/><stop offset=".2625" stop-color="#7c23ff"/><stop offset=".275" stop-color="#8a0cff"/><stop offset=".2792" stop-color="#8e00ff"/><stop offset=".3563" stop-color="#cf00ff"/><stop offset=".4292" stop-color="#ff00fd"/><stop offset=".4958" stop-color="#ff00d9"/></linearGradient><linearGradient id="g157" gradientUnits="userSpaceOnUse" x1="0" x2="240"><stop offset=".1333" stop-color="#0062ff"/><stop offset=".2083" stop-color="#0244ff"/><stop offset=".2104" stop-color="#1643ff"/><stop offset=".2167" stop-color="#313fff"/><stop offset=".2313" stop-color="#5235ff"/><stop offset=".2562" stop-color="#761cff"/><stop offset=".2687" stop-color="#8400ff"/><stop offset=".3354" stop-color="#c000ff"/><stop offset=".4292" stop-color="#ff00fd"/><stop offset=".4792" stop-color="#ff00e1"/></linearGradient><linearGradient id="g158" gradientUnits="userSpaceOnUse" x1="0" x2="240"><stop offset=".1375" stop-color="#005cff"/><stop offset=".2062" stop-color="#003eff"/><stop offset=".2104" stop-color="#203bff"/><stop offset=".2208" stop-color="#4134ff"/><stop offset=".2458" stop-color="#6b1aff"/><stop offset=".2562" stop-color="#7800ff"/><stop offset=".3208" stop-color="#b500ff"/><stop offset=".4292" stop-color="#ff00fe"/><stop offset=".4667" stop-color="#ff00e8"/></linearGradient><linearGradient id="g159" gradientUnits="userSpaceOnUse" x1="0" x2="240"><stop offset=".1417" stop-color="#0056ff"/><stop offset=".2042" stop-color="#0037ff"/><stop offset=".2083" stop-color="#1e34ff"/><stop offset=".2167" stop-color="#3a2eff"/><stop offset=".2354" stop-color="#5e18ff"/><stop offset=".2458" stop-color="#6d00ff"/><stop offset=".3042" stop-color="#a800ff"/><stop offset=".4208" stop-color="#fb00ff"/><stop offset=".4458" stop-color="#ff00f4"/><stop offset=".4542" stop-color="#ff00ef"/></linearGradient><linearGradient id="g160" gradientUnits="userSpaceOnUse" x1="0" x2="240"><stop offset=".1458" stop-color="#004fff"/><stop offset=".2" stop-color="#0032ff"/><stop offset=".2021" stop-color="#0030ff"/><stop offset=".2062" stop-color="#1c2dff"/><stop offset=".2146" stop-color="#3924ff"/><stop offset=".2271" stop-color="#5312ff"/><stop offset=".2333" stop-color="#5d00ff"/><stop offset=".2729" stop-color="#8c00ff"/><stop offset=".3479" stop-color="#ca00ff"/><stop offset=".4313" stop-color="#ff00fd"/><stop offset=".4417" stop-color="#ff00f6"/></linearGradient><linearGradient id="g161" gradientUnits="userSpaceOnUse" x1="0" x2="240"><stop offset=".1458" stop-color="#004aff"/><stop offset=".1938" stop-color="#002dff"/><stop offset=".2" stop-color="#0027ff"/><stop offset=".2021" stop-color="#0925ff"/><stop offset=".2042" stop-color="#1a23ff"/><stop offset=".2125" stop-color="#3818ff"/><stop offset=".2229" stop-color="#4e00ff"/><stop offset=".2542" stop-color="#7a00ff"/><stop offset=".3187" stop-color="#b500ff"/><stop offset=".4292" stop-color="#ff00fe"/></linearGradient><linearGradient id="g162" gradientUnits="userSpaceOnUse" x1="0" x2="240"><stop offset=".15" stop-color="#0042ff"/><stop offset=".1917" stop-color="#0024ff"/><stop offset=".1979" stop-color="#001cff"/><stop offset=".2" stop-color="#0519ff"/><stop offset=".2021" stop-color="#1716ff"/><stop offset=".2104" stop-color="#3701ff"/><stop offset=".2313" stop-color="#5e00ff"/><stop offset=".2687" stop-color="#8a00ff"/><stop offset=".3438" stop-color="#c800ff"/><stop offset=".4125" stop-color="#f500ff"/></linearGradient><linearGradient id="g163" gradientUnits="userSpaceOnUse" x1="0" x2="240"><stop offset=".1542" stop-color="#0038ff"/><stop offset=".1854" stop-color="#001eff"/><stop offset=".1958" stop-color="#000bff"/><stop offset=".1979" stop-color="#0104ff"/><stop offset=".2" stop-color="#1500ff"/><stop offset=".2062" stop-color="#3000ff"/><stop offset=".225" stop-color="#5700ff"/><stop offset=".2604" stop-color="#8300ff"/><stop offset=".3312" stop-color="#bf00ff"/><stop offset=".4" stop-color="#ed00ff"/></linearGradient><linearGradient id="g164" gradientUnits="userSpaceOnUse" x1="0" x2="240"><stop offset=".1583" stop-color="#002dff"/><stop offset=".1792" stop-color="#0016ff"/><stop offset=".1896" stop-color="#00f"/><stop offset=".1958" stop-color="#00f"/><stop offset=".1979" stop-color="#1300ff"/><stop offset=".2042" stop-color="#2e00ff"/><stop offset=".2188" stop-color="#4f00ff"/><stop offset=".2521" stop-color="#7c00ff"/><stop offset=".3208" stop-color="#b800ff"/><stop offset=".3875" stop-color="#e500ff"/></linearGradient><linearGradient id="g165" gradientUnits="userSpaceOnUse" x1="0" x2="240"><stop offset=".1583" stop-color="#02f"/><stop offset=".1708" stop-color="#0010ff"/><stop offset=".1771" stop-color="#00f"/><stop offset=".1938" stop-color="#00f"/><stop offset=".1979" stop-color="#1d00ff"/><stop offset=".2083" stop-color="#3e00ff"/><stop offset=".2333" stop-color="#6700ff"/><stop offset=".2812" stop-color="#90f"/><stop offset=".375" stop-color="#d0f"/></linearGradient><linearGradient id="g166" gradientUnits="userSpaceOnUse" x1="0" x2="240"><stop offset=".1625" stop-color="#0008ff"/><stop offset=".1667" stop-color="#00f"/><stop offset=".1917" stop-color="#00f"/><stop offset=".1979" stop-color="#2400ff"/><stop offset=".2083" stop-color="#4100ff"/><stop offset=".2333" stop-color="#6900ff"/><stop offset=".2833" stop-color="#9b00ff"/><stop offset=".3583" stop-color="#d300ff"/></linearGradient><linearGradient id="g167" gradientUnits="userSpaceOnUse" x1="0" x2="240"><stop offset=".1667" stop-color="#00f"/><stop offset=".1896" stop-color="#00f"/><stop offset=".1917" stop-color="#0900ff"/><stop offset=".1958" stop-color="#2300ff"/><stop offset=".2083" stop-color="#40f"/><stop offset=".2333" stop-color="#6b00ff"/><stop offset=".2938" stop-color="#a500ff"/><stop offset=".3458" stop-color="#ca00ff"/></linearGradient><linearGradient id="g168" gradientUnits="userSpaceOnUse" x1="0" x2="240"><stop offset=".1708" stop-color="#00f"/><stop offset=".1875" stop-color="#00f"/><stop offset=".1896" stop-color="#0500ff"/><stop offset=".1917" stop-color="#1700ff"/><stop offset=".2" stop-color="#3500ff"/><stop offset=".2188" stop-color="#5900ff"/><stop offset=".2625" stop-color="#8b00ff"/><stop offset=".3333" stop-color="#c200ff"/></linearGradient><linearGradient id="g169" gradientUnits="userSpaceOnUse" x1="0" x2="240"><stop offset=".1792" stop-color="#00f"/><stop offset=".1875" stop-color="#0100ff"/><stop offset=".1896" stop-color="#1400ff"/><stop offset=".1979" stop-color="#3400ff"/><stop offset=".2167" stop-color="#5800ff"/><stop offset=".2583" stop-color="#80f"/><stop offset=".3208" stop-color="#ba00ff"/></linearGradient><linearGradient id="g170" gradientUnits="userSpaceOnUse" x1="0" x2="240"><stop offset=".1833" stop-color="#00f"/><stop offset=".1854" stop-color="#00f"/><stop offset=".1896" stop-color="#1e00ff"/><stop offset=".2" stop-color="#3d00ff"/><stop offset=".2229" stop-color="#6300ff"/><stop offset=".275" stop-color="#9800ff"/><stop offset=".3083" stop-color="#b100ff"/></linearGradient><linearGradient id="g171" gradientUnits="userSpaceOnUse" x1="0" x2="240"><stop offset=".1875" stop-color="#1c00ff"/><stop offset=".1958" stop-color="#3700ff"/><stop offset=".2146" stop-color="#5900ff"/><stop offset=".2521" stop-color="#8400ff"/><stop offset=".2917" stop-color="#a600ff"/></linearGradient><linearGradient id="g172" gradientUnits="userSpaceOnUse" x1="0" x2="240"><stop offset=".1958" stop-color="#3b00ff"/><stop offset=".2208" stop-color="#6400ff"/><stop offset=".2792" stop-color="#9d00ff"/></linearGradient><linearGradient id="g173" gradientUnits="userSpaceOnUse" x1="0" x2="240"><stop offset=".2042" stop-color="#4e00ff"/><stop offset=".2396" stop-color="#7a00ff"/><stop offset=".2667" stop-color="#9300ff"/></linearGradient><linearGradient id="g174" gradientUnits="userSpaceOnUse" x1="0" x2="240"><stop offset=".2083" stop-color="#5700ff"/><stop offset=".25" stop-color="#8500ff"/><stop offset=".2542" stop-color="#8900ff"/></linearGradient><linearGradient id="g175" gradientUnits="userSpaceOnUse" x1="0" x2="240"><stop offset=".2167" stop-color="#6400ff"/><stop offset=".2375" stop-color="#7b00ff"/></linearGradient>
<clipPath id="lc"><path d="M55 -1.6L55 -1.6L55 -1.6L55 -1.6L55 -1.6L55 -1.6L55 -1.6L54.9 -1.6L54.9 -1.6L54.9 -1.6L54.9 -1.6L54.9 -1.6L54.9 -1.6L54.8 -1.5L54.8 -1.5L54.8 -1.5L54.8 -1.5L54.7 -1.5L54.7 -1.5L54.7 -1.5L54.7 -1.5L54.6 -1.5L54.6 -1.5L54.6 -1.5L54.5 -1.5L54.5 -1.5L54.5 -1.5L54.4 -1.5L54.4 -1.5L54.3 -1.5L54.3 -1.6L54.2 -1.6L54.2 -1.6L54.1 -1.7L54 -1.7L53.9 -1.8L53.8 -1.8L53.7 -1.9L53.6 -2L53.5 -2.1L53.4 -2.2L53.2 -2.3L53.1 -2.4L52.9 -2.6L52.7 -2.7L52.6 -2.9L52.4 -3.1L52.2 -3.3L52 -3.5L51.7 -3.7L51.5 -3.9L51.2 -4.1L50.9 -4.4L50.6 -4.6L50.2 -4.9L49.9 -5.3L49.5 -5.6L49.1 -6L48.7 -6.3L48.2 -6.7L47.7 -7.2L47.2 -7.7L46.7 -8.2L46.1 -8.8L45.5 -9.4L44.9 -10.1L44.2 -10.8L43.6 -11.6L42.8 -12.6L42 -13.8L41.1 -15.1L40.2 -16.6L39.2 -18.3L38.2 -20.2L37.1 -22.3L35.9 -24.7L34.6 -27.5L33.3 -30.6L31.9 -34L30.4 -37.8L28.9 -42L27.2 -46.7L25.4 -51.8L23.5 -57.4L21.7 -63.6L19.9 -70.3L18 -77.5L16.2 -85.2L14.3 -93.4L12.5 -102.2L10.7 -111.4L9 -121L7.4 -130.7L6 -140.5L4.7 -150.6L3.5 -160.7L2.6 -170.5L1.9 -180.1L1.4 -189.5L1.2 -198.7L1.2 -207.4L1.6 -215.6L2.2 -223.5L3.2 -230.9L4.4 -237.6L6 -243.5L7.8 -248.8L10 -253.4L12.3 -257.1L14.8 -260L17.6 -262L20.5 -263.3L23.5 -264L26.5 -264.2L29.7 -263.7L32.9 -262.7L36.1 -261.6L39.3 -260.3L42.5 -258.7L45.7 -257L48.9 -255.2L52 -253.4L55 -251.5L58 -249.5L61 -247.5L63.9 -245.4L66.8 -243.3L69.7 -241.1L72.6 -238.9L75.4 -236.6L78.3 -234.2L81.1 -231.8L84 -229.4L86.8 -226.9L89.7 -224.4L92.5 -221.8L95.3 -219.2L98.1 -216.6L100.9 -214L103.8 -211.3L106.6 -208.7L109.4 -206L112.2 -203.2L115.1 -200.5L117.9 -197.8L120.7 -195L123.5 -192.2L126.3 -189.5L129.1 -186.7L132 -183.9L134.8 -181.2L137.6 -178.4L140.3 -175.7L143.1 -172.9L145.9 -170.2L148.6 -167.4L151.3 -164.7L154 -162L156.7 -159.4L159.3 -156.7L161.9 -154.1L164.5 -151.5L167.1 -148.9L169.7 -146.4L172.2 -143.9L174.6 -141.4L177.1 -139L179.4 -136.7L181.8 -134.3L184 -132.1L186.3 -129.8L188.4 -127.7L190.5 -125.6L192.5 -123.6L194.5 -121.6L196.3 -119.8L198.1 -118L199.9 -116.2L201.6 -114.5L203.3 -112.8L204.8 -111.3L206.3 -109.8L207.7 -108.4L209.1 -107L210.4 -105.8L211.6 -104.5L212.8 -103.4L213.9 -102.3L214.9 -101.2L215.9 -100.3L216.8 -99.3L217.7 -98.5L218.5 -97.6L219.3 -96.9L220 -96.1L220.7 -95.4L221.4 -94.8L222 -94.2L222.6 -93.6L223.2 -93L223.7 -92.5L224.2 -91.9L224.7 -91.5L225.2 -91L225.6 -90.5L226.1 -90.1L226.5 -89.7L226.8 -89.3L227.2 -89L227.5 -88.6L227.9 -88.3L228.2 -88L228.5 -87.7L228.7 -87.5L229 -87.2L229.2 -87L229.4 -86.8L229.6 -86.6L229.8 -86.4L230 -86.2L230.1 -86L230.3 -85.9L230.4 -85.7L230.6 -85.6L230.7 -85.5L230.8 -85.4L230.9 -85.3L230.9 -85.2L231 -85.2L231.1 -85.1L231.2 -85L231.2 -84.9L231.3 -84.9L231.4 -84.8L231.4 -84.8L231.5 -84.7L231.5 -84.6L231.6 -84.6L231.6 -84.5L231.7 -84.5L231.8 -84.4L231.8 -84.4L231.9 -84.3L231.9 -84.3L231.9 -84.2L232 -84.2L232 -84.2L232 -84.1L232.1 -84.1L232.1 -84.1L232.1 -84.1L232.1 -84.1L232.1 -84L232.1 -84L232.2 -84L232.2 -84L232.2 -84Z"/></clipPath>
<g id="cie"><g clip-path="url(#lc)"><rect x="18" y="-264.5" width="15" height="2.5" fill="url(#g0)"/><rect x="15" y="-263" width="23" height="2.5" fill="url(#g1)"/><rect x="13" y="-261.5" width="28" height="2.5" fill="url(#g2)"/><rect x="12" y="-260" width="32" height="2.5" fill="url(#g3)"/><rect x="11" y="-258.5" width="36" height="2.5" fill="url(#g4)"/><rect x="10" y="-257" width="40" height="2.5" fill="url(#g5)"/><rect x="9" y="-255.5" width="43" height="2.5" fill="url(#g6)"/><rect x="8" y="-254" width="47" height="2.5" fill="url(#g7)"/><rect x="7" y="-252.5" width="50" height="2.5" fill="url(#g8)"/><rect x="7" y="-251" width="53" height="2.5" fill="url(#g9)"/><rect x="6" y="-249.5" width="56" height="2.5" fill="url(#g10)"/><rect x="6" y="-248" width="58" height="2.5" fill="url(#g11)"/><rect x="5" y="-246.5" width="61" height="2.5" fill="url(#g12)"/><rect x="4" y="-245" width="64" height="2.5" fill="url(#g13)"/><rect x="4" y="-243.5" width="66" height="2.5" fill="url(#g14)"/><rect x="4" y="-242" width="68" height="2.5" fill="url(#g15)"/><rect x="3" y="-240.5" width="71" height="2.5" fill="url(#g16)"/><rect x="3" y="-239" width="73" height="2.5" fill="url(#g17)"/><rect x="3" y="-237.5" width="75" height="2.5" fill="url(#g18)"/><rect x="2" y="-236" width="77" height="2.5" fill="url(#g19)"/><rect x="2" y="-234.5" width="79" height="2.5" fill="url(#g20)"/><rect x="2" y="-233" width="81" height="2.5" fill="url(#g21)"/><rect x="2" y="-231.5" width="83" height="2.5" fill="url(#g22)"/><rect x="1" y="-230" width="85" height="2.5" fill="url(#g23)"/><rect x="1" y="-228.5" width="87" height="2.5" fill="url(#g24)"/><rect x="1" y="-227" width="89" height="2.5" fill="url(#g25)"/><rect x="1" y="-225.5" width="91" height="2.5" fill="url(#g26)"/><rect x="1" y="-224" width="92" height="2.5" fill="url(#g27)"/><rect x="1" y="-222.5" width="94" height="2.5" fill="url(#g28)"/><rect x="0" y="-221" width="97" height="2.5" fill="url(#g29)"/><rect x="0" y="-219.5" width="98" height="2.5" fill="url(#g30)"/><rect x="0" y="-218" width="100" height="2.5" fill="url(#g31)"/><rect x="0" y="-216.5" width="101" height="2.5" fill="url(#g32)"/><rect x="0" y="-215" width="103" height="2.5" fill="url(#g33)"/><rect x="0" y="-213.5" width="105" height="2.5" fill="url(#g34)"/><rect x="0" y="-212" width="106" height="2.5" fill="url(#g35)"/><rect x="0" y="-210.5" width="108" height="2.5" fill="url(#g36)"/><rect x="0" y="-209" width="109" height="2.5" fill="url(#g37)"/><rect x="0" y="-207.5" width="111" height="2.5" fill="url(#g38)"/><rect x="0" y="-206" width="112" height="2.5" fill="url(#g39)"/><rect x="0" y="-204.5" width="114" height="2.5" fill="url(#g40)"/><rect x="0" y="-203" width="116" height="2.5" fill="url(#g41)"/><rect x="0" y="-201.5" width="117" height="2.5" fill="url(#g42)"/><rect x="0" y="-200" width="119" height="2.5" fill="url(#g43)"/><rect x="0" y="-198.5" width="120" height="2.5" fill="url(#g44)"/><rect x="0" y="-197" width="122" height="2.5" fill="url(#g45)"/><rect x="0" y="-195.5" width="123" height="2.5" fill="url(#g46)"/><rect x="0" y="-194" width="125" height="2.5" fill="url(#g47)"/><rect x="0" y="-192.5" width="126" height="2.5" fill="url(#g48)"/><rect x="0" y="-191" width="128" height="2.5" fill="url(#g49)"/><rect x="0" y="-189.5" width="129" height="2.5" fill="url(#g50)"/><rect x="0" y="-188" width="131" height="2.5" fill="url(#g51)"/><rect x="0" y="-186.5" width="132" height="2.5" fill="url(#g52)"/><rect x="0" y="-185" width="134" height="2.5" fill="url(#g53)"/><rect x="0" y="-183.5" width="135" height="2.5" fill="url(#g54)"/><rect x="0" y="-182" width="137" height="2.5" fill="url(#g55)"/><rect x="0" y="-180.5" width="138" height="2.5" fill="url(#g56)"/><rect x="0" y="-179" width="140" height="2.5" fill="url(#g57)"/><rect x="1" y="-177.5" width="140" height="2.5" fill="url(#g58)"/><rect x="1" y="-176" width="142" height="2.5" fill="url(#g59)"/><rect x="1" y="-174.5" width="144" height="2.5" fill="url(#g60)"/><rect x="1" y="-173" width="145" height="2.5" fill="url(#g61)"/><rect x="1" y="-171.5" width="147" height="2.5" fill="url(#g62)"/><rect x="1" y="-170" width="148" height="2.5" fill="url(#g63)"/><rect x="1" y="-168.5" width="150" height="2.5" fill="url(#g64)"/><rect x="1" y="-167" width="151" height="2.5" fill="url(#g65)"/><rect x="2" y="-165.5" width="152" height="2.5" fill="url(#g66)"/><rect x="2" y="-164" width="153" height="2.5" fill="url(#g67)"/><rect x="2" y="-162.5" width="155" height="2.5" fill="url(#g68)"/><rect x="2" y="-161" width="156" height="2.5" fill="url(#g69)"/><rect x="2" y="-159.5" width="158" height="2.5" fill="url(#g70)"/><rect x="2" y="-158" width="159" height="2.5" fill="url(#g71)"/><rect x="2" y="-156.5" width="161" height="2.5" fill="url(#g72)"/><rect x="3" y="-155" width="161" height="2.5" fill="url(#g73)"/><rect x="3" y="-153.5" width="163" height="2.5" fill="url(#g74)"/><rect x="3" y="-152" width="164" height="2.5" fill="url(#g75)"/><rect x="3" y="-150.5" width="166" height="2.5" fill="url(#g76)"/><rect x="3" y="-149" width="167" height="2.5" fill="url(#g77)"/><rect x="4" y="-147.5" width="168" height="2.5" fill="url(#g78)"/><rect x="4" y="-146" width="169" height="2.5" fill="url(#g79)"/><rect x="4" y="-144.5" width="171" height="2.5" fill="url(#g80)"/><rect x="4" y="-143" width="172" height="2.5" fill="url(#g81)"/><rect x="4" y="-141.5" width="174" height="2.5" fill="url(#g82)"/><rect x="5" y="-140" width="174" height="2.5" fill="url(#g83)"/><rect x="5" y="-138.5" width="176" height="2.5" fill="url(#g84)"/><rect x="5" y="-137" width="177" height="2.5" fill="url(#g85)"/><rect x="5" y="-135.5" width="179" height="2.5" fill="url(#g86)"/><rect x="5" y="-134" width="180" height="2.5" fill="url(#g87)"/><rect x="6" y="-132.5" width="181" height="2.5" fill="url(#g88)"/><rect x="6" y="-131" width="182" height="2.5" fill="url(#g89)"/><rect x="6" y="-129.5" width="184" height="2.5" fill="url(#g90)"/><rect x="6" y="-128" width="185" height="2.5" fill="url(#g91)"/><rect x="7" y="-126.5" width="186" height="2.5" fill="url(#g92)"/><rect x="7" y="-125" width="187" height="2.5" fill="url(#g93)"/><rect x="7" y="-123.5" width="189" height="2.5" fill="url(#g94)"/><rect x="7" y="-122" width="190" height="2.5" fill="url(#g95)"/><rect x="8" y="-120.5" width="191" height="2.5" fill="url(#g96)"/><rect x="8" y="-119" width="192" height="2.5" fill="url(#g97)"/><rect x="8" y="-117.5" width="194" height="2.5" fill="url(#g98)"/><rect x="8" y="-116" width="195" height="2.5" fill="url(#g99)"/><rect x="9" y="-114.5" width="196" height="2.5" fill="url(#g100)"/><rect x="9" y="-113" width="197" height="2.5" fill="url(#g101)"/><rect x="9" y="-111.5" width="199" height="2.5" fill="url(#g102)"/><rect x="10" y="-110" width="199" height="2.5" fill="url(#g103)"/><rect x="10" y="-108.5" width="201" height="2.5" fill="url(#g104)"/><rect x="10" y="-107" width="202" height="2.5" fill="url(#g105)"/><rect x="10" y="-105.5" width="204" height="2.5" fill="url(#g106)"/><rect x="11" y="-104" width="204" height="2.5" fill="url(#g107)"/><rect x="11" y="-102.5" width="206" height="2.5" fill="url(#g108)"/><rect x="11" y="-101" width="207" height="2.5" fill="url(#g109)"/><rect x="12" y="-99.5" width="208" height="2.5" fill="url(#g110)"/><rect x="12" y="-98" width="209" height="2.5" fill="url(#g111)"/><rect x="12" y="-96.5" width="211" height="2.5" fill="url(#g112)"/><rect x="13" y="-95" width="211" height="2.5" fill="url(#g113)"/><rect x="13" y="-93.5" width="213" height="2.5" fill="url(#g114)"/><rect x="13" y="-92" width="214" height="2.5" fill="url(#g115)"/><rect x="13" y="-90.5" width="216" height="2.5" fill="url(#g116)"/><rect x="14" y="-89" width="216" height="2.5" fill="url(#g117)"/><rect x="14" y="-87.5" width="218" height="2.5" fill="url(#g118)"/><rect x="14" y="-86" width="219" height="2.5" fill="url(#g119)"/><rect x="15" y="-84.5" width="219" height="2.5" fill="url(#g120)"/><rect x="15" y="-83" width="216" height="2.5" fill="url(#g121)"/><rect x="16" y="-81.5" width="212" height="2.5" fill="url(#g122)"/><rect x="16" y="-80" width="209" height="2.5" fill="url(#g123)"/><rect x="16" y="-78.5" width="206" height="2.5" fill="url(#g124)"/><rect x="17" y="-77" width="202" height="2.5" fill="url(#g125)"/><rect x="17" y="-75.5" width="198" height="2.5" fill="url(#g126)"/><rect x="17" y="-74" width="195" height="2.5" fill="url(#g127)"/><rect x="18" y="-72.5" width="191" height="2.5" fill="url(#g128)"/><rect x="18" y="-71" width="188" height="2.5" fill="url(#g129)"/><rect x="19" y="-69.5" width="183" height="2.5" fill="url(#g130)"/><rect x="19" y="-68" width="180" height="2.5" fill="url(#g131)"/><rect x="19" y="-66.5" width="177" height="2.5" fill="url(#g132)"/><rect x="20" y="-65" width="173" height="2.5" fill="url(#g133)"/><rect x="20" y="-63.5" width="170" height="2.5" fill="url(#g134)"/><rect x="21" y="-62" width="165" height="2.5" fill="url(#g135)"/><rect x="21" y="-60.5" width="162" height="2.5" fill="url(#g136)"/><rect x="22" y="-59" width="158" height="2.5" fill="url(#g137)"/><rect x="22" y="-57.5" width="155" height="2.5" fill="url(#g138)"/><rect x="23" y="-56" width="150" height="2.5" fill="url(#g139)"/><rect x="23" y="-54.5" width="147" height="2.5" fill="url(#g140)"/><rect x="23" y="-53" width="144" height="2.5" fill="url(#g141)"/><rect x="24" y="-51.5" width="140" height="2.5" fill="url(#g142)"/><rect x="25" y="-50" width="136" height="2.5" fill="url(#g143)"/><rect x="25" y="-48.5" width="132" height="2.5" fill="url(#g144)"/><rect x="26" y="-47" width="128" height="2.5" fill="url(#g145)"/><rect x="26" y="-45.5" width="125" height="2.5" fill="url(#g146)"/><rect x="27" y="-44" width="121" height="2.5" fill="url(#g147)"/><rect x="27" y="-42.5" width="117" height="2.5" fill="url(#g148)"/><rect x="28" y="-41" width="113" height="2.5" fill="url(#g149)"/><rect x="28" y="-39.5" width="110" height="2.5" fill="url(#g150)"/><rect x="29" y="-38" width="106" height="2.5" fill="url(#g151)"/><rect x="29" y="-36.5" width="103" height="2.5" fill="url(#g152)"/><rect x="30" y="-35" width="98" height="2.5" fill="url(#g153)"/><rect x="31" y="-33.5" width="94" height="2.5" fill="url(#g154)"/><rect x="31" y="-32" width="91" height="2.5" fill="url(#g155)"/><rect x="32" y="-30.5" width="87" height="2.5" fill="url(#g156)"/><rect x="32" y="-29" width="83" height="2.5" fill="url(#g157)"/><rect x="33" y="-27.5" width="79" height="2.5" fill="url(#g158)"/><rect x="34" y="-26" width="75" height="2.5" fill="url(#g159)"/><rect x="35" y="-24.5" width="71" height="2.5" fill="url(#g160)"/><rect x="35" y="-23" width="68" height="2.5" fill="url(#g161)"/><rect x="36" y="-21.5" width="63" height="2.5" fill="url(#g162)"/><rect x="37" y="-20" width="59" height="2.5" fill="url(#g163)"/><rect x="38" y="-18.5" width="55" height="2.5" fill="url(#g164)"/><rect x="38" y="-17" width="52" height="2.5" fill="url(#g165)"/><rect x="39" y="-15.5" width="47" height="2.5" fill="url(#g166)"/><rect x="40" y="-14" width="43" height="2.5" fill="url(#g167)"/><rect x="41" y="-12.5" width="39" height="2.5" fill="url(#g168)"/><rect x="43" y="-11" width="34" height="2.5" fill="url(#g169)"/><rect x="44" y="-9.5" width="30" height="2.5" fill="url(#g170)"/><rect x="45" y="-8" width="25" height="2.5" fill="url(#g171)"/><rect x="47" y="-6.5" width="20" height="2.5" fill="url(#g172)"/><rect x="49" y="-5" width="15" height="2.5" fill="url(#g173)"/><rect x="50" y="-3.5" width="11" height="2.5" fill="url(#g174)"/><rect x="52" y="-2" width="5" height="2.5" fill="url(#g175)"/></g><path d="M55 -1.6L55 -1.6L55 -1.6L55 -1.6L55 -1.6L55 -1.6L55 -1.6L54.9 -1.6L54.9 -1.6L54.9 -1.6L54.9 -1.6L54.9 -1.6L54.9 -1.6L54.8 -1.5L54.8 -1.5L54.8 -1.5L54.8 -1.5L54.7 -1.5L54.7 -1.5L54.7 -1.5L54.7 -1.5L54.6 -1.5L54.6 -1.5L54.6 -1.5L54.5 -1.5L54.5 -1.5L54.5 -1.5L54.4 -1.5L54.4 -1.5L54.3 -1.5L54.3 -1.6L54.2 -1.6L54.2 -1.6L54.1 -1.7L54 -1.7L53.9 -1.8L53.8 -1.8L53.7 -1.9L53.6 -2L53.5 -2.1L53.4 -2.2L53.2 -2.3L53.1 -2.4L52.9 -2.6L52.7 -2.7L52.6 -2.9L52.4 -3.1L52.2 -3.3L52 -3.5L51.7 -3.7L51.5 -3.9L51.2 -4.1L50.9 -4.4L50.6 -4.6L50.2 -4.9L49.9 -5.3L49.5 -5.6L49.1 -6L48.7 -6.3L48.2 -6.7L47.7 -7.2L47.2 -7.7L46.7 -8.2L46.1 -8.8L45.5 -9.4L44.9 -10.1L44.2 -10.8L43.6 -11.6L42.8 -12.6L42 -13.8L41.1 -15.1L40.2 -16.6L39.2 -18.3L38.2 -20.2L37.1 -22.3L35.9 -24.7L34.6 -27.5L33.3 -30.6L31.9 -34L30.4 -37.8L28.9 -42L27.2 -46.7L25.4 -51.8L23.5 -57.4L21.7 -63.6L19.9 -70.3L18 -77.5L16.2 -85.2L14.3 -93.4L12.5 -102.2L10.7 -111.4L9 -121L7.4 -130.7L6 -140.5L4.7 -150.6L3.5 -160.7L2.6 -170.5L1.9 -180.1L1.4 -189.5L1.2 -198.7L1.2 -207.4L1.6 -215.6L2.2 -223.5L3.2 -230.9L4.4 -237.6L6 -243.5L7.8 -248.8L10 -253.4L12.3 -257.1L14.8 -260L17.6 -262L20.5 -263.3L23.5 -264L26.5 -264.2L29.7 -263.7L32.9 -262.7L36.1 -261.6L39.3 -260.3L42.5 -258.7L45.7 -257L48.9 -255.2L52 -253.4L55 -251.5L58 -249.5L61 -247.5L63.9 -245.4L66.8 -243.3L69.7 -241.1L72.6 -238.9L75.4 -236.6L78.3 -234.2L81.1 -231.8L84 -229.4L86.8 -226.9L89.7 -224.4L92.5 -221.8L95.3 -219.2L98.1 -216.6L100.9 -214L103.8 -211.3L106.6 -208.7L109.4 -206L112.2 -203.2L115.1 -200.5L117.9 -197.8L120.7 -195L123.5 -192.2L126.3 -189.5L129.1 -186.7L132 -183.9L134.8 -181.2L137.6 -178.4L140.3 -175.7L143.1 -172.9L145.9 -170.2L148.6 -167.4L151.3 -164.7L154 -162L156.7 -159.4L159.3 -156.7L161.9 -154.1L164.5 -151.5L167.1 -148.9L169.7 -146.4L172.2 -143.9L174.6 -141.4L177.1 -139L179.4 -136.7L181.8 -134.3L184 -132.1L186.3 -129.8L188.4 -127.7L190.5 -125.6L192.5 -123.6L194.5 -121.6L196.3 -119.8L198.1 -118L199.9 -116.2L201.6 -114.5L203.3 -112.8L204.8 -111.3L206.3 -109.8L207.7 -108.4L209.1 -107L210.4 -105.8L211.6 -104.5L212.8 -103.4L213.9 -102.3L214.9 -101.2L215.9 -100.3L216.8 -99.3L217.7 -98.5L218.5 -97.6L219.3 -96.9L220 -96.1L220.7 -95.4L221.4 -94.8L222 -94.2L222.6 -93.6L223.2 -93L223.7 -92.5L224.2 -91.9L224.7 -91.5L225.2 -91L225.6 -90.5L226.1 -90.1L226.5 -89.7L226.8 -89.3L227.2 -89L227.5 -88.6L227.9 -88.3L228.2 -88L228.5 -87.7L228.7 -87.5L229 -87.2L229.2 -87L229.4 -86.8L229.6 -86.6L229.8 -86.4L230 -86.2L230.1 -86L230.3 -85.9L230.4 -85.7L230.6 -85.6L230.7 -85.5L230.8 -85.4L230.9 -85.3L230.9 -85.2L231 -85.2L231.1 -85.1L231.2 -85L231.2 -84.9L231.3 -84.9L231.4 -84.8L231.4 -84.8L231.5 -84.7L231.5 -84.6L231.6 -84.6L231.6 -84.5L231.7 -84.5L231.8 -84.4L231.8 -84.4L231.9 -84.3L231.9 -84.3L231.9 -84.2L232 -84.2L232 -84.2L232 -84.1L232.1 -84.1L232.1 -84.1L232.1 -84.1L232.1 -84.1L232.1 -84L232.1 -84L232.2 -84L232.2 -84L232.2 -84Z" fill="none" stroke="#000" stroke-width="1.0" stroke-linejoin="round"/><path d="M55 -1.6l0 4M55 -1.6l1.3 3.8M54.9 -1.6l1 3.9M54.9 -1.6l0.8 3.9M54.8 -1.5l0.7 3.9M54.7 -1.5l0 4M54.5 -1.5l0 4M54.4 -1.5l-1 3.9M54.2 -1.6l-1.9 3.5M53.8 -1.8l-2.3 3.2M53.4 -2.2l-2.5 3.1M52.7 -2.7l-2.7 3M52 -3.5l-2.7 3M50.9 -4.4l-2.6 3M49.5 -5.6l-2.6 3M47.7 -7.2l-2.8 2.9M45.5 -9.4l-3 2.7M42.8 -12.6l-3.3 2.3M39.2 -18.3l-3.5 1.9M34.6 -27.5l-3.7 1.6M28.9 -42l-3.8 1.3M21.7 -63.6l-3.8 1.1M14.3 -93.4l-3.9 0.8M7.4 -130.7l-4 0.6M2.6 -170.5l-4 0.3M1.2 -207.4l-4 -0.1M4.4 -237.6l-3.9 -0.9M12.3 -257.1l-3.2 -2.3M23.5 -264l-0.7 -3.9M36.1 -261.6l1.3 -3.8M48.9 -255.2l2 -3.5M61 -247.5l2.3 -3.3M72.6 -238.9l2.5 -3.1M84 -229.4l2.6 -3M95.3 -219.2l2.7 -2.9M106.6 -208.7l2.8 -2.9M117.9 -197.8l2.8 -2.9M129.1 -186.7l2.8 -2.8M140.3 -175.7l2.8 -2.8M151.3 -164.7l2.8 -2.8M161.9 -154.1l2.8 -2.8M172.2 -143.9l2.8 -2.8M181.8 -134.3l2.8 -2.8M190.5 -125.6l2.8 -2.8M198.1 -118l2.8 -2.8M204.8 -111.3l2.8 -2.8M210.4 -105.8l2.8 -2.8M214.9 -101.2l2.8 -2.8M218.5 -97.6l2.8 -2.8M221.4 -94.8l2.8 -2.8M223.7 -92.5l2.8 -2.8M225.6 -90.5l2.8 -2.8M227.2 -89l2.8 -2.8M228.5 -87.7l2.8 -2.8M229.4 -86.8l2.8 -2.8M230.1 -86l2.8 -2.8M230.7 -85.5l2.8 -2.8M231 -85.2l2.8 -2.8M231.3 -84.9l2.8 -2.8M231.5 -84.6l2.8 -2.8M231.8 -84.4l2.8 -2.8M231.9 -84.2l2.8 -2.8M232.1 -84.1l2.8 -2.8M232.1 -84l2.8 -2.8M232.2 -84l2.8 -2.8" fill="none" stroke="#000" stroke-width="1.1"/></g>
<g id="grid"><path d="M15.8 0V-285M31.6 0V-285M47.4 0V-285M63.2 0V-285M79 0V-285M94.8 0V-285M110.6 0V-285M126.4 0V-285M142.2 0V-285M158 0V-285M173.8 0V-285M189.6 0V-285M205.4 0V-285M221.2 0V-285M237 0V-285M252.8 0V-285M0 -15.8H252.8M0 -31.7H252.8M0 -47.5H252.8M0 -63.3H252.8M0 -79.2H252.8M0 -95H252.8M0 -110.8H252.8M0 -126.7H252.8M0 -142.5H252.8M0 -158.3H252.8M0 -174.2H252.8M0 -190H252.8M0 -205.8H252.8M0 -221.7H252.8M0 -237.5H252.8M0 -253.3H252.8M0 -269.2H252.8M0 -285H252.8" stroke="#c4c4c4" stroke-width="0.7" fill="none"/><path d="M31.6 -285L252.8 -63.3" stroke="#9a9a9a" stroke-width="0.9" fill="none"/><path d="M0 -285V0H252.8M0 0v1.5M31.6 0v1.5M63.2 0v1.5M94.8 0v1.5M126.4 0v1.5M158 0v1.5M189.6 0v1.5M221.2 0v1.5M252.8 0v1.5M0 0h-2.2M0 -31.7h-2.2M0 -63.3h-2.2M0 -95h-2.2M0 -126.7h-2.2M0 -158.3h-2.2M0 -190h-2.2M0 -221.7h-2.2M0 -253.3h-2.2M0 -285h-2.2" stroke="#757575" stroke-width="0.9" fill="none"/></g></defs>
<rect width="584" height="685" fill="#fff"/>
<g transform="translate(29.5,312.5)"><use href="#grid" transform="scale(1.00079,1)"/><use href="#cie" transform="scale(1.00079,1)"/><g class="ax"><text x="0" y="11.8" text-anchor="middle">0.0</text><text x="31.6" y="11.8" text-anchor="middle">0.1</text><text x="63.2" y="11.8" text-anchor="middle">0.2</text><text x="94.9" y="11.8" text-anchor="middle">0.3</text><text x="126.5" y="11.8" text-anchor="middle">0.4</text><text x="158.1" y="11.8" text-anchor="middle">0.5</text><text x="189.8" y="11.8" text-anchor="middle">0.6</text><text x="221.4" y="11.8" text-anchor="middle">0.7</text><text x="253" y="11.8" text-anchor="middle">0.8</text><text x="-3.2" y="2.7" text-anchor="end">0.0</text><text x="-3.2" y="-29" text-anchor="end">0.1</text><text x="-3.2" y="-60.6" text-anchor="end">0.2</text><text x="-3.2" y="-92.3" text-anchor="end">0.3</text><text x="-3.2" y="-124" text-anchor="end">0.4</text><text x="-3.2" y="-155.6" text-anchor="end">0.5</text><text x="-3.2" y="-187.3" text-anchor="end">0.6</text><text x="-3.2" y="-219" text-anchor="end">0.7</text><text x="-3.2" y="-250.6" text-anchor="end">0.8</text><text x="-3.2" y="-282.3" text-anchor="end">0.9</text></g><g class="wl"><text x="22.5" y="-270.4" text-anchor="middle">520</text><text x="82.6" y="-244.5" text-anchor="middle">540</text><text x="128.3" y="-204.5" text-anchor="middle">560</text><text x="172.6" y="-159.4" text-anchor="middle">580</text><text x="209.1" y="-123.2" text-anchor="middle">600</text><text x="229.2" y="-103.3" text-anchor="middle">620</text><text x="245.6" y="-81.6" text-anchor="middle">700</text><text x="-4.8" y="-167.3" text-anchor="end">500</text><text x="15.3" y="-84.3" text-anchor="end">490</text><text x="23.6" y="-37.4" text-anchor="end">480</text><text x="34.1" y="-13.2" text-anchor="end">470</text><text x="40.9" y="-2" text-anchor="end">460</text><text x="59.4" y="2.4" text-anchor="start">380</text></g><text class="axt" x="126.5" y="21.4" text-anchor="middle">x</text><path d="M126.5 12.2l2.2 2.7l-2.2 2.7l-2.2 -2.7z" fill="#fff" stroke="#000" stroke-width="0.8"/><g transform="translate(-18.3,-142.5) rotate(4)"><text class="axt" x="1.0" y="2.2" style="font-size:10.5px" text-anchor="middle">y</text><path d="M0.6 -8.9l2.4 3l-2.4 3l-2.4 -3z" fill="#fff" stroke="#000" stroke-width="0.9"/></g></g>
<g><path d="M159.6 169C160.8 170.1 164.5 173.4 166.6 175.3C168.7 177.2 170.2 178.2 172.2 180.4C174.2 182.6 176.6 185.7 178.5 188.5C180.4 191.3 182 194.1 183.4 197.5C184.8 200.9 186.3 205 187.2 209C188.1 213 188.7 217.6 188.6 221.3C188.5 225 187.5 228.5 186.4 231.2C185.3 233.9 182.7 236.6 182 237.7" fill="none" stroke="#fff" stroke-width="2.0" stroke-dasharray="11 3.5" stroke-dashoffset="3"/><circle cx="159.6" cy="169" r="3.4" fill="#fff"/><circle cx="182" cy="237.7" r="3.4" fill="#fff"/><path d="M173.4,156.6L179.1,163.3L186.6,172.3L192.8,181L200.4,194.2L203.6,212.3L203.6,222.7L200.7,232.2L191.9,239.8L181.4,246" fill="none" stroke="#000" stroke-width="2.1" stroke-linejoin="round"/><circle cx="173.4" cy="156.6" r="3.4"/><circle cx="179.1" cy="163.3" r="2.85"/><circle cx="186.6" cy="172.3" r="2.85"/><circle cx="192.8" cy="181" r="2.85"/><circle cx="200.4" cy="194.2" r="2.85"/><circle cx="203.6" cy="212.3" r="2.85"/><circle cx="203.6" cy="222.7" r="2.85"/><circle cx="200.7" cy="232.2" r="2.85"/><circle cx="191.9" cy="239.8" r="2.85"/><circle cx="181.4" cy="246" r="3.4"/><path d="M180.6 181L172.2 180.4L173.4 187.6" fill="none" stroke="#1a10b4" stroke-width="1.5"/><path d="M181 227.8L186.8 223.8L189.4 230.3" fill="none" stroke="#1a10b4" stroke-width="1.5"/><text class="b" x="114.5" y="154.3" font-size="13.4">Φ = 90</text><text class="b" x="143.2" y="263" font-size="13.4">Φ = 0</text><rect x="154.4" y="40" width="126.4" height="38.6" fill="#fff" stroke="#1414c4" stroke-width="2.0"/><path d="M168.8 53.6H201.6" stroke="#000" stroke-width="2.8"/><path d="M168.8 67.2H201.6" stroke="#000" stroke-width="2.8" stroke-dasharray="6.8 2"/><text class="sans" x="235.7" y="57" font-size="10.1" text-anchor="middle">Simulated</text><text class="sans" x="238.2" y="70.6" font-size="10.1" text-anchor="middle">Experiemntal</text><rect x="224.8" y="259.2" width="52.3" height="19" fill="#fff" stroke="#2020b8" stroke-width="1.5"/><text class="sans" x="250.7" y="272.6" font-size="11.4" text-anchor="middle" fill="#2a2aa6">Case 1</text><rect x="130.8" y="291.2" width="150.7" height="16.2" fill="#fff" stroke="#2020b8" stroke-width="1.5"/><text class="sans" x="206.5" y="304.7" font-size="15.4" text-anchor="middle">Transmission Mode</text></g>
<g transform="translate(323.1,312.5)"><use href="#grid" transform="scale(0.99842,1)"/><use href="#cie" transform="scale(0.99842,1)"/><g class="ax"><text x="0" y="11.8" text-anchor="middle">0.0</text><text x="31.6" y="11.8" text-anchor="middle">0.1</text><text x="63.1" y="11.8" text-anchor="middle">0.2</text><text x="94.7" y="11.8" text-anchor="middle">0.3</text><text x="126.2" y="11.8" text-anchor="middle">0.4</text><text x="157.8" y="11.8" text-anchor="middle">0.5</text><text x="189.3" y="11.8" text-anchor="middle">0.6</text><text x="220.9" y="11.8" text-anchor="middle">0.7</text><text x="252.4" y="11.8" text-anchor="middle">0.8</text><text x="-3.2" y="2.7" text-anchor="end">0.0</text><text x="-3.2" y="-29" text-anchor="end">0.1</text><text x="-3.2" y="-60.6" text-anchor="end">0.2</text><text x="-3.2" y="-92.3" text-anchor="end">0.3</text><text x="-3.2" y="-124" text-anchor="end">0.4</text><text x="-3.2" y="-155.6" text-anchor="end">0.5</text><text x="-3.2" y="-187.3" text-anchor="end">0.6</text><text x="-3.2" y="-219" text-anchor="end">0.7</text><text x="-3.2" y="-250.6" text-anchor="end">0.8</text><text x="-3.2" y="-282.3" text-anchor="end">0.9</text></g><g class="wl"><text x="22.4" y="-270.4" text-anchor="middle">520</text><text x="82.4" y="-244.5" text-anchor="middle">540</text><text x="128" y="-204.5" text-anchor="middle">560</text><text x="172.2" y="-159.4" text-anchor="middle">580</text><text x="208.6" y="-123.2" text-anchor="middle">600</text><text x="228.7" y="-103.3" text-anchor="middle">620</text><text x="245.1" y="-81.6" text-anchor="middle">700</text><text x="-4.8" y="-167.3" text-anchor="end">500</text><text x="15.2" y="-84.3" text-anchor="end">490</text><text x="23.5" y="-37.4" text-anchor="end">480</text><text x="34.1" y="-13.2" text-anchor="end">470</text><text x="40.8" y="-2" text-anchor="end">460</text><text x="59.2" y="2.4" text-anchor="start">380</text></g><text class="axt" x="126.2" y="21.4" text-anchor="middle">x</text><path d="M126.2 12.2l2.2 2.7l-2.2 2.7l-2.2 -2.7z" fill="#fff" stroke="#000" stroke-width="0.8"/><g transform="translate(-18.3,-142.5) rotate(4)"><text class="axt" x="1.0" y="2.2" style="font-size:10.5px" text-anchor="middle">y</text><path d="M0.6 -8.9l2.4 3l-2.4 3l-2.4 -3z" fill="#fff" stroke="#000" stroke-width="0.9"/></g></g>
<g><path d="M391.8 208.9C391.6 210.9 390.9 217.5 390.8 220.8C390.7 224.2 390.6 226.6 391.2 229C391.8 231.4 392.5 233 394.5 235.5C396.5 238 400 241.6 403.1 243.8C406.2 246 409.3 247 413.4 248.6C417.5 250.2 423 252.2 427.8 253.3C432.6 254.4 437.8 255.2 442.2 255.3C446.6 255.4 450.4 254.5 454.5 253.7C458.6 252.9 464.8 251.1 466.8 250.6" fill="none" stroke="#fff" stroke-width="3.4" stroke-dasharray="18 3 11 3 11 3 11 3 11 3 11 3 11 3" stroke-dashoffset="0"/><circle cx="391.8" cy="208.9" r="6.0" fill="#fff"/><circle cx="466.8" cy="250.6" r="6.0" fill="#fff"/><path d="M376.8,208.9L383.6,221.2L390.2,229.6L397.7,236.2L408.2,241L417.8,244.3L429.2,244.8L438.8,244L446.5,240.4L454.9,234.8" fill="none" stroke="#000" stroke-width="2.6" stroke-linejoin="round"/><circle cx="376.8" cy="208.9" r="3.8"/><circle cx="383.6" cy="221.2" r="3.1"/><circle cx="390.2" cy="229.6" r="3.1"/><circle cx="397.7" cy="236.2" r="3.1"/><circle cx="408.2" cy="241" r="3.1"/><circle cx="417.8" cy="244.3" r="3.1"/><circle cx="429.2" cy="244.8" r="3.1"/><circle cx="438.8" cy="244" r="3.1"/><circle cx="446.5" cy="240.4" r="3.1"/><circle cx="454.9" cy="234.8" r="3.8"/><path d="M396.2 245.2L404.6 245.2L402.2 239.2" fill="none" stroke="#1a10b4" stroke-width="1.5"/><path d="M428 257.4L436.4 255.1L431.8 248.8" fill="none" stroke="#1a10b4" stroke-width="1.5"/><text class="b" x="352.6" y="196.5" font-size="13.4">Φ = 0</text><text class="b" x="470.5" y="238.8" font-size="13.4">Φ = 90</text><rect x="518.8" y="260.1" width="52.3" height="18.7" fill="#fff" stroke="#2020b8" stroke-width="1.5"/><text class="sans" x="545.2" y="273.8" font-size="11.4" text-anchor="middle" fill="#2a2aa6">Case 2</text><rect x="423.4" y="291.1" width="151.4" height="16.2" fill="#fff" stroke="#2020b8" stroke-width="1.5"/><text class="sans" x="499.4" y="304.2" font-size="15.4" text-anchor="middle">Transmission Mode</text></g>
<g transform="translate(28.9,661.5)"><use href="#grid" transform="scale(0.99921,1)"/><use href="#cie" transform="scale(0.99921,1)"/><g class="ax"><text x="0" y="11.8" text-anchor="middle">0.0</text><text x="31.6" y="11.8" text-anchor="middle">0.1</text><text x="63.2" y="11.8" text-anchor="middle">0.2</text><text x="94.7" y="11.8" text-anchor="middle">0.3</text><text x="126.3" y="11.8" text-anchor="middle">0.4</text><text x="157.9" y="11.8" text-anchor="middle">0.5</text><text x="189.5" y="11.8" text-anchor="middle">0.6</text><text x="221" y="11.8" text-anchor="middle">0.7</text><text x="252.6" y="11.8" text-anchor="middle">0.8</text><text x="-3.2" y="2.7" text-anchor="end">0.0</text><text x="-3.2" y="-29" text-anchor="end">0.1</text><text x="-3.2" y="-60.6" text-anchor="end">0.2</text><text x="-3.2" y="-92.3" text-anchor="end">0.3</text><text x="-3.2" y="-124" text-anchor="end">0.4</text><text x="-3.2" y="-155.6" text-anchor="end">0.5</text><text x="-3.2" y="-187.3" text-anchor="end">0.6</text><text x="-3.2" y="-219" text-anchor="end">0.7</text><text x="-3.2" y="-250.6" text-anchor="end">0.8</text><text x="-3.2" y="-282.3" text-anchor="end">0.9</text></g><g class="wl"><text x="22.5" y="-270.4" text-anchor="middle">520</text><text x="82.5" y="-244.5" text-anchor="middle">540</text><text x="128.1" y="-204.5" text-anchor="middle">560</text><text x="172.3" y="-159.4" text-anchor="middle">580</text><text x="208.8" y="-123.2" text-anchor="middle">600</text><text x="228.8" y="-103.3" text-anchor="middle">620</text><text x="245.3" y="-81.6" text-anchor="middle">700</text><text x="-4.8" y="-167.3" text-anchor="end">500</text><text x="15.2" y="-84.3" text-anchor="end">490</text><text x="23.5" y="-37.4" text-anchor="end">480</text><text x="34.1" y="-13.2" text-anchor="end">470</text><text x="40.9" y="-2" text-anchor="end">460</text><text x="59.3" y="2.4" text-anchor="start">380</text></g><text class="axt" x="126.3" y="21.4" text-anchor="middle">x</text><path d="M126.3 12.2l2.2 2.7l-2.2 2.7l-2.2 -2.7z" fill="#fff" stroke="#000" stroke-width="0.8"/><g transform="translate(-18.3,-142.5) rotate(4)"><text class="axt" x="1.0" y="2.2" style="font-size:10.5px" text-anchor="middle">y</text><path d="M0.6 -8.9l2.4 3l-2.4 3l-2.4 -3z" fill="#fff" stroke="#000" stroke-width="0.9"/></g></g>
<g><path d="M110.5,482L107.4,494L104.5,504.5L102.1,512.6L98.9,527L94.9,542.7L92.8,560.8L85.9,582.1L82.3,596.2L79,607" fill="none" stroke="#000" stroke-width="2.4" stroke-linejoin="round"/><circle cx="110.5" cy="482" r="4.9"/><circle cx="107.4" cy="494" r="3.0"/><circle cx="104.5" cy="504.5" r="3.0"/><circle cx="102.1" cy="512.6" r="3.0"/><circle cx="98.9" cy="527" r="3.0"/><circle cx="94.9" cy="542.7" r="3.0"/><circle cx="92.8" cy="560.8" r="3.0"/><circle cx="85.9" cy="582.1" r="3.0"/><circle cx="82.3" cy="596.2" r="3.0"/><circle cx="79" cy="607" r="4.9"/><path d="M127.2,482L74.2,595.3" fill="none" stroke="#fff" stroke-width="2.6" stroke-dasharray="10 2.5" stroke-dashoffset="0"/><circle cx="127.2" cy="482" r="4.9" fill="#fff"/><circle cx="74.2" cy="595.3" r="4.9" fill="#fff"/><path d="M112.2 499.4L115 506.6L125.4 505" fill="none" stroke="#1a10b4" stroke-width="1.5"/><path d="M79.6 566.8L86.4 574.6L92.8 572.8" fill="none" stroke="#1a10b4" stroke-width="1.5"/><text class="b" x="84.6" y="465.3" font-size="13.4">Φ = 0</text><text class="b" x="68.3" y="625.9" font-size="14" transform="rotate(-7.6 68.3 625.9)">Φ = 90</text><rect x="222.3" y="609" width="52" height="18.7" fill="#fff" stroke="#2020b8" stroke-width="1.5"/><text class="sans" x="248.5" y="622.3" font-size="11.4" text-anchor="middle" fill="#2a2aa6">Case 1</text><rect x="143.8" y="636.6" width="134.5" height="15.9" fill="#fff" stroke="#2020b8" stroke-width="1.5"/><text class="sans" x="210.0" y="649.1" font-size="15.1" text-anchor="middle">Reflection Mode</text></g>
<g transform="translate(323.86,661.5)"><use href="#grid" transform="scale(0.99858,1)"/><use href="#cie" transform="scale(0.99858,1)"/><g class="ax"><text x="0" y="11.8" text-anchor="middle">0.0</text><text x="31.6" y="11.8" text-anchor="middle">0.1</text><text x="63.1" y="11.8" text-anchor="middle">0.2</text><text x="94.7" y="11.8" text-anchor="middle">0.3</text><text x="126.2" y="11.8" text-anchor="middle">0.4</text><text x="157.8" y="11.8" text-anchor="middle">0.5</text><text x="189.3" y="11.8" text-anchor="middle">0.6</text><text x="220.9" y="11.8" text-anchor="middle">0.7</text><text x="252.4" y="11.8" text-anchor="middle">0.8</text><text x="-3.2" y="2.7" text-anchor="end">0.0</text><text x="-3.2" y="-29" text-anchor="end">0.1</text><text x="-3.2" y="-60.6" text-anchor="end">0.2</text><text x="-3.2" y="-92.3" text-anchor="end">0.3</text><text x="-3.2" y="-124" text-anchor="end">0.4</text><text x="-3.2" y="-155.6" text-anchor="end">0.5</text><text x="-3.2" y="-187.3" text-anchor="end">0.6</text><text x="-3.2" y="-219" text-anchor="end">0.7</text><text x="-3.2" y="-250.6" text-anchor="end">0.8</text><text x="-3.2" y="-282.3" text-anchor="end">0.9</text></g><g class="wl"><text x="22.4" y="-270.4" text-anchor="middle">520</text><text x="82.5" y="-244.5" text-anchor="middle">540</text><text x="128" y="-204.5" text-anchor="middle">560</text><text x="172.2" y="-159.4" text-anchor="middle">580</text><text x="208.6" y="-123.2" text-anchor="middle">600</text><text x="228.7" y="-103.3" text-anchor="middle">620</text><text x="245.1" y="-81.6" text-anchor="middle">700</text><text x="-4.8" y="-167.3" text-anchor="end">500</text><text x="15.2" y="-84.3" text-anchor="end">490</text><text x="23.5" y="-37.4" text-anchor="end">480</text><text x="34.1" y="-13.2" text-anchor="end">470</text><text x="40.8" y="-2" text-anchor="end">460</text><text x="59.2" y="2.4" text-anchor="start">380</text></g><text class="axt" x="126.2" y="21.4" text-anchor="middle">x</text><path d="M126.2 12.2l2.2 2.7l-2.2 2.7l-2.2 -2.7z" fill="#fff" stroke="#000" stroke-width="0.8"/><g transform="translate(-18.3,-142.5) rotate(4)"><text class="axt" x="1.0" y="2.2" style="font-size:10.5px" text-anchor="middle">y</text><path d="M0.6 -8.9l2.4 3l-2.4 3l-2.4 -3z" fill="#fff" stroke="#000" stroke-width="0.9"/></g></g>
<g><path d="M411.7,510.1L519.1,549" fill="none" stroke="#fff" stroke-width="2.8" stroke-dasharray="10 2.5" stroke-dashoffset="9"/><circle cx="411.7" cy="510.1" r="4.9" fill="#fff"/><circle cx="519.1" cy="549" r="4.9" fill="#fff"/><path d="M396.4,491L406.6,497.1L416.8,502.3L427.7,508.5L437.3,512.9L451.7,520.8L471.4,531.9L481,538.5L488.6,542.9L498.8,548.4" fill="none" stroke="#000" stroke-width="2.4" stroke-linejoin="round"/><circle cx="396.4" cy="491" r="4.3"/><circle cx="406.6" cy="497.1" r="3.0"/><circle cx="416.8" cy="502.3" r="3.0"/><circle cx="427.7" cy="508.5" r="3.0"/><circle cx="437.3" cy="512.9" r="3.0"/><circle cx="451.7" cy="520.8" r="3.0"/><circle cx="471.4" cy="531.9" r="3.0"/><circle cx="481" cy="538.5" r="3.0"/><circle cx="488.6" cy="542.9" r="3.0"/><circle cx="498.8" cy="548.4" r="4.3"/><path d="M444.6 515.9L437.1 519.7L440.5 527.3" fill="none" stroke="#1a10b4" stroke-width="1.5"/><path d="M502.3 535.8L495.1 539.5L498.6 547" fill="none" stroke="#1a10b4" stroke-width="1.5"/><text class="b" x="382.8" y="483.4" font-size="14" transform="rotate(-6.8 382.8 483.4)">Φ = 90</text><text class="b" x="487.5" y="571.2" font-size="13.4">Φ = 0</text><rect x="519.5" y="610.4" width="51.9" height="18.4" fill="#fff" stroke="#2020b8" stroke-width="1.5"/><text class="sans" x="546.0" y="624.0" font-size="11.4" text-anchor="middle" fill="#2a2aa6">Case 2</text><rect x="437.6" y="638.4" width="134.5" height="16.1" fill="#fff" stroke="#2020b8" stroke-width="1.5"/><text class="sans" x="505.0" y="650.9" font-size="15.1" text-anchor="middle">Reflection Mode</text></g>
<text class="b" x="1" y="11.8" font-size="13" letter-spacing="0.9">(a)</text>
<text class="b" x="1" y="362" font-size="13" letter-spacing="0.9">(b)</text>
</svg>
</body></html>
